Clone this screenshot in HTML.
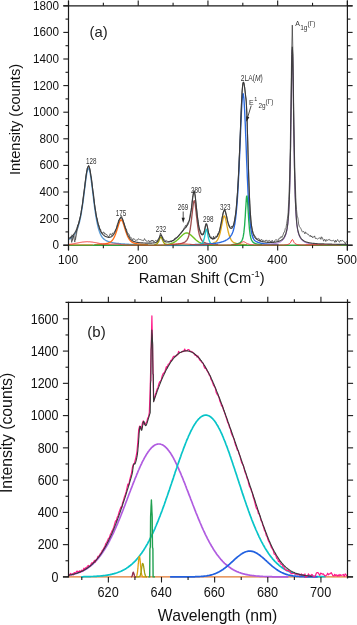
<!DOCTYPE html>
<html><head><meta charset="utf-8"><title>Raman and PL spectra</title>
<style>html,body{margin:0;padding:0;background:#fff}body{width:357px;height:625px;overflow:hidden}</style></head>
<body>
<svg width="357" height="625" viewBox="0 0 357 625" style="display:block;font-family:'Liberation Sans', Arial, sans-serif">
<rect width="357" height="625" fill="#fff"/>
<g id="chartA">
<clipPath id="ca"><rect x="68.5" y="5.8" width="278.9" height="240.59999999999997"/></clipPath>
<g clip-path="url(#ca)">
<polyline fill="none" stroke="#5b9bd5" stroke-width="1.35" stroke-linejoin="round" points="68.5,239.6 68.8,239.4 69.2,239.2 69.5,239.0 69.9,238.8 70.2,238.6 70.6,238.3 70.9,238.1 71.3,237.8 71.6,237.5 72.0,237.2 72.3,236.9 72.7,236.6 73.0,236.2 73.4,235.8 73.7,235.4 74.1,235.0 74.4,234.5 74.8,234.0 75.1,233.4 75.5,232.9 75.8,232.2 76.2,231.6 76.5,230.8 76.9,230.0 77.2,229.2 77.6,228.3 77.9,227.3 78.3,226.3 78.6,225.1 79.0,223.9 79.3,222.6 79.7,221.2 80.0,219.7 80.4,218.1 80.7,216.4 81.1,214.5 81.4,212.6 81.7,210.5 82.1,208.4 82.4,206.1 82.8,203.6 83.1,201.1 83.5,198.5 83.8,195.8 84.2,193.0 84.5,190.2 84.9,187.3 85.2,184.5 85.6,181.7 85.9,179.1 86.3,176.6 86.6,174.3 87.0,172.3 87.3,170.7 87.7,169.5 88.0,168.7 88.4,168.3 88.7,168.5 89.1,169.0 89.4,170.0 89.8,171.3 90.1,173.0 90.5,175.0 90.8,177.3 91.2,179.8 91.5,182.4 91.9,185.2 92.2,188.0 92.6,190.9 92.9,193.8 93.3,196.7 93.6,199.5 93.9,202.2 94.3,204.9 94.6,207.5 95.0,210.0 95.3,212.4 95.7,214.7 96.0,216.8 96.4,218.9 96.7,220.8 97.1,222.5 97.4,224.2 97.8,225.8 98.1,227.2 98.5,228.5 98.8,229.7 99.2,230.8 99.5,231.9 99.9,232.8 100.2,233.7 100.6,234.4 100.9,235.1 101.3,235.8 101.6,236.4 102.0,236.9 102.3,237.4 102.7,237.8 103.0,238.2 103.4,238.6 103.7,238.9 104.1,239.2 104.4,239.5 104.8,239.8 105.1,240.0 105.5,240.2 105.8,240.4 106.2,240.6 106.5,240.8 106.8,241.0 107.2,241.1 107.5,241.2 107.9,241.4 108.2,241.5 108.6,241.6 108.9,241.7 109.3,241.9 109.6,242.0 110.0,242.1 110.3,242.1 110.7,242.2 111.0,242.3 111.4,242.4 111.7,242.5 112.1,242.6 112.4,242.6 112.8,242.7 113.1,242.8 113.5,242.8 113.8,242.9 114.2,242.9 114.5,243.0 114.9,243.1 115.2,243.1 115.6,243.2 115.9,243.2 116.3,243.3 116.6,243.3 117.0,243.3 117.3,243.4 117.7,243.4 118.0,243.5 118.4,243.5 118.7,243.5 119.1,243.6 119.4,243.6 119.7,243.7 120.1,243.7 120.4,243.7 120.8,243.7 121.1,243.8 121.5,243.8 121.8,243.8 122.2,243.9 122.5,243.9 122.9,243.9 123.2,243.9 123.6,244.0 123.9,244.0 124.3,244.0 124.6,244.0 125.0,244.1 125.3,244.1 125.7,244.1 126.0,244.1 126.4,244.1 126.7,244.2 127.1,244.2 127.4,244.2 127.8,244.2 128.1,244.2 128.5,244.2 128.8,244.3 129.2,244.3 129.5,244.3 129.9,244.3 130.2,244.3 130.6,244.3 130.9,244.3 131.3,244.4 131.6,244.4 131.9,244.4 132.3,244.4 132.6,244.4 133.0,244.4 133.3,244.4 133.7,244.4 134.0,244.5 134.4,244.5 134.7,244.5 135.1,244.5 135.4,244.5 135.8,244.5 136.1,244.5 136.5,244.5 136.8,244.5 137.2,244.5 137.5,244.6 137.9,244.6 138.2,244.6 138.6,244.6 138.9,244.6 139.3,244.6 139.6,244.6 140.0,244.6 140.3,244.6 140.7,244.6 141.0,244.6 141.4,244.6 141.7,244.7 142.1,244.7 142.4,244.7 142.8,244.7" />
<polyline fill="none" stroke="#ff6c14" stroke-width="1.35" stroke-linejoin="round" points="94.3,244.7 94.6,244.7 95.0,244.7 95.3,244.6 95.7,244.6 96.0,244.6 96.4,244.6 96.7,244.6 97.1,244.6 97.4,244.5 97.8,244.5 98.1,244.5 98.5,244.5 98.8,244.5 99.2,244.4 99.5,244.4 99.9,244.4 100.2,244.4 100.6,244.3 100.9,244.3 101.3,244.3 101.6,244.2 102.0,244.2 102.3,244.2 102.7,244.1 103.0,244.1 103.4,244.1 103.7,244.0 104.1,244.0 104.4,243.9 104.8,243.9 105.1,243.8 105.5,243.8 105.8,243.7 106.2,243.6 106.5,243.6 106.8,243.5 107.2,243.4 107.5,243.3 107.9,243.2 108.2,243.1 108.6,242.9 108.9,242.8 109.3,242.6 109.6,242.5 110.0,242.3 110.3,242.1 110.7,241.8 111.0,241.5 111.4,241.2 111.7,240.9 112.1,240.5 112.4,240.1 112.8,239.6 113.1,239.1 113.5,238.6 113.8,237.9 114.2,237.3 114.5,236.5 114.9,235.8 115.2,234.9 115.6,234.0 115.9,233.1 116.3,232.1 116.6,231.0 117.0,229.9 117.3,228.8 117.7,227.7 118.0,226.5 118.4,225.4 118.7,224.3 119.1,223.3 119.4,222.3 119.7,221.5 120.1,220.8 120.4,220.3 120.8,220.0 121.1,219.9 121.5,220.0 121.8,220.3 122.2,220.8 122.5,221.5 122.9,222.3 123.2,223.3 123.6,224.3 123.9,225.4 124.3,226.5 124.6,227.7 125.0,228.8 125.3,229.9 125.7,231.0 126.0,232.1 126.4,233.1 126.7,234.0 127.1,234.9 127.4,235.8 127.8,236.5 128.1,237.3 128.5,237.9 128.8,238.6 129.2,239.1 129.5,239.6 129.9,240.1 130.2,240.5 130.6,240.9 130.9,241.2 131.3,241.5 131.6,241.8 131.9,242.1 132.3,242.3 132.6,242.5 133.0,242.6 133.3,242.8 133.7,242.9 134.0,243.1 134.4,243.2 134.7,243.3 135.1,243.4 135.4,243.5 135.8,243.6 136.1,243.6 136.5,243.7 136.8,243.8 137.2,243.8 137.5,243.9 137.9,243.9 138.2,244.0 138.6,244.0 138.9,244.1 139.3,244.1 139.6,244.1 140.0,244.2 140.3,244.2 140.7,244.2 141.0,244.3 141.4,244.3 141.7,244.3 142.1,244.4 142.4,244.4 142.8,244.4 143.1,244.4 143.5,244.5 143.8,244.5 144.2,244.5 144.5,244.5 144.8,244.5 145.2,244.6 145.5,244.6 145.9,244.6 146.2,244.6 146.6,244.6 146.9,244.6 147.3,244.7 147.6,244.7 148.0,244.7" />
<polyline fill="none" stroke="#a0a000" stroke-width="1.35" stroke-linejoin="round" points="154.3,244.7 154.6,244.6 155.0,244.6 155.3,244.5 155.7,244.4 156.0,244.2 156.4,244.1 156.7,243.9 157.1,243.6 157.4,243.3 157.7,242.9 158.1,242.4 158.4,241.8 158.8,241.1 159.1,240.3 159.5,239.4 159.8,238.5 160.2,237.7 160.5,237.2 160.9,237.0 161.2,237.2 161.6,237.7 161.9,238.5 162.3,239.4 162.6,240.3 163.0,241.1 163.3,241.8 163.7,242.4 164.0,242.9 164.4,243.3 164.7,243.6 165.1,243.9 165.4,244.1 165.8,244.2 166.1,244.4 166.5,244.5 166.8,244.6 167.2,244.6 167.5,244.7" />
<polyline fill="none" stroke="#6fc020" stroke-width="1.35" stroke-linejoin="round" points="164.4,244.7 164.7,244.7 165.1,244.6 165.4,244.6 165.8,244.6 166.1,244.5 166.5,244.5 166.8,244.5 167.2,244.4 167.5,244.4 167.9,244.3 168.2,244.3 168.6,244.2 168.9,244.2 169.3,244.1 169.6,244.0 169.9,243.9 170.3,243.8 170.6,243.7 171.0,243.6 171.3,243.5 171.7,243.4 172.0,243.3 172.4,243.1 172.7,243.0 173.1,242.8 173.4,242.6 173.8,242.5 174.1,242.3 174.5,242.1 174.8,241.8 175.2,241.6 175.5,241.4 175.9,241.1 176.2,240.9 176.6,240.6 176.9,240.3 177.3,240.0 177.6,239.7 178.0,239.4 178.3,239.1 178.7,238.8 179.0,238.4 179.4,238.1 179.7,237.7 180.1,237.4 180.4,237.1 180.8,236.7 181.1,236.4 181.5,236.0 181.8,235.7 182.2,235.4 182.5,235.1 182.8,234.8 183.2,234.5 183.5,234.2 183.9,234.0 184.2,233.7 184.6,233.5 184.9,233.4 185.3,233.2 185.6,233.1 186.0,233.0 186.3,233.0 186.7,233.0 187.0,233.0 187.4,233.0 187.7,233.1 188.1,233.2 188.4,233.4 188.8,233.5 189.1,233.7 189.5,234.0 189.8,234.2 190.2,234.5 190.5,234.8 190.9,235.1 191.2,235.4 191.6,235.7 191.9,236.0 192.3,236.4 192.6,236.7 193.0,237.1 193.3,237.4 193.7,237.7 194.0,238.1 194.4,238.4 194.7,238.8 195.1,239.1 195.4,239.4 195.7,239.7 196.1,240.0 196.4,240.3 196.8,240.6 197.1,240.9 197.5,241.1 197.8,241.4 198.2,241.6 198.5,241.8 198.9,242.1 199.2,242.3 199.6,242.5 199.9,242.6 200.3,242.8 200.6,243.0 201.0,243.1 201.3,243.3 201.7,243.4 202.0,243.5 202.4,243.6 202.7,243.7 203.1,243.8 203.4,243.9 203.8,244.0 204.1,244.1 204.5,244.2 204.8,244.2 205.2,244.3 205.5,244.3 205.9,244.4 206.2,244.4 206.6,244.5 206.9,244.5 207.3,244.5 207.6,244.6 207.9,244.6 208.3,244.6 208.6,244.7 209.0,244.7" />
<polyline fill="none" stroke="#a05050" stroke-width="1.35" stroke-linejoin="round" points="170.3,244.7 170.6,244.7 171.0,244.6 171.3,244.6 171.7,244.6 172.0,244.6 172.4,244.6 172.7,244.5 173.1,244.5 173.4,244.5 173.8,244.5 174.1,244.5 174.5,244.4 174.8,244.4 175.2,244.4 175.5,244.3 175.9,244.3 176.2,244.3 176.6,244.2 176.9,244.2 177.3,244.2 177.6,244.1 178.0,244.1 178.3,244.0 178.7,244.0 179.0,243.9 179.4,243.9 179.7,243.8 180.1,243.7 180.4,243.7 180.8,243.6 181.1,243.5 181.5,243.4 181.8,243.3 182.2,243.2 182.5,243.1 182.8,243.0 183.2,242.9 183.5,242.7 183.9,242.6 184.2,242.4 184.6,242.2 184.9,242.0 185.3,241.7 185.6,241.4 186.0,241.1 186.3,240.8 186.7,240.3 187.0,239.8 187.4,239.3 187.7,238.6 188.1,237.8 188.4,236.9 188.8,235.7 189.1,234.5 189.5,233.0 189.8,231.2 190.2,229.3 190.5,227.0 190.9,224.5 191.2,221.8 191.6,218.8 191.9,215.7 192.3,212.5 192.6,209.3 193.0,206.3 193.3,203.8 193.7,201.9 194.0,200.8 194.4,200.7 194.7,201.6 195.1,203.4 195.4,205.8 195.7,208.7 196.1,211.9 196.4,215.1 196.8,218.2 197.1,221.2 197.5,224.0 197.8,226.5 198.2,228.8 198.5,230.9 198.9,232.6 199.2,234.2 199.6,235.5 199.9,236.6 200.3,237.6 200.6,238.4 201.0,239.1 201.3,239.7 201.7,240.2 202.0,240.7 202.4,241.1 202.7,241.4 203.1,241.7 203.4,241.9 203.8,242.1 204.1,242.3 204.5,242.5 204.8,242.7 205.2,242.8 205.5,243.0 205.9,243.1 206.2,243.2 206.6,243.3 206.9,243.4 207.3,243.5 207.6,243.6 207.9,243.7 208.3,243.7 208.6,243.8 209.0,243.9 209.3,243.9 209.7,244.0 210.0,244.0 210.4,244.1 210.7,244.1 211.1,244.2 211.4,244.2 211.8,244.2 212.1,244.3 212.5,244.3 212.8,244.3 213.2,244.4 213.5,244.4 213.9,244.4 214.2,244.5 214.6,244.5 214.9,244.5 215.3,244.5 215.6,244.5 216.0,244.6 216.3,244.6 216.7,244.6 217.0,244.6 217.4,244.6 217.7,244.7 218.1,244.7" />
<polyline fill="none" stroke="#20c8d0" stroke-width="1.35" stroke-linejoin="round" points="197.8,244.7 198.2,244.6 198.5,244.6 198.9,244.5 199.2,244.5 199.6,244.4 199.9,244.3 200.3,244.2 200.6,244.1 201.0,243.9 201.3,243.8 201.7,243.6 202.0,243.3 202.4,242.9 202.7,242.5 203.1,241.9 203.4,241.1 203.8,240.1 204.1,238.9 204.5,237.4 204.8,235.7 205.2,233.8 205.5,232.0 205.9,230.4 206.2,229.4 206.6,229.3 206.9,230.1 207.3,231.6 207.6,233.4 207.9,235.3 208.3,237.1 208.6,238.6 209.0,239.9 209.3,240.9 209.7,241.7 210.0,242.4 210.4,242.8 210.7,243.2 211.1,243.5 211.4,243.7 211.8,243.9 212.1,244.1 212.5,244.2 212.8,244.3 213.2,244.4 213.5,244.4 213.9,244.5 214.2,244.6 214.6,244.6 214.9,244.7 215.3,244.7" />
<polyline fill="none" stroke="#e0a820" stroke-width="1.35" stroke-linejoin="round" points="201.7,244.7 202.0,244.7 202.4,244.6 202.7,244.6 203.1,244.6 203.4,244.6 203.8,244.6 204.1,244.6 204.5,244.5 204.8,244.5 205.2,244.5 205.5,244.5 205.9,244.4 206.2,244.4 206.6,244.4 206.9,244.3 207.3,244.3 207.6,244.3 207.9,244.2 208.3,244.2 208.6,244.1 209.0,244.1 209.3,244.0 209.7,244.0 210.0,243.9 210.4,243.9 210.7,243.8 211.1,243.7 211.4,243.7 211.8,243.6 212.1,243.5 212.5,243.4 212.8,243.3 213.2,243.2 213.5,243.1 213.9,242.9 214.2,242.8 214.6,242.6 214.9,242.4 215.3,242.2 215.6,242.0 216.0,241.7 216.3,241.4 216.7,241.0 217.0,240.6 217.4,240.1 217.7,239.5 218.1,238.9 218.4,238.1 218.8,237.3 219.1,236.3 219.5,235.3 219.8,234.1 220.2,232.8 220.5,231.3 220.8,229.8 221.2,228.1 221.5,226.4 221.9,224.6 222.2,222.8 222.6,221.0 222.9,219.4 223.3,218.0 223.6,216.9 224.0,216.2 224.3,215.9 224.7,216.2 225.0,216.9 225.4,218.0 225.7,219.4 226.1,221.0 226.4,222.8 226.8,224.6 227.1,226.4 227.5,228.1 227.8,229.8 228.2,231.3 228.5,232.8 228.9,234.1 229.2,235.3 229.6,236.3 229.9,237.3 230.3,238.1 230.6,238.9 231.0,239.5 231.3,240.1 231.7,240.6 232.0,241.0 232.4,241.4 232.7,241.7 233.1,242.0 233.4,242.2 233.7,242.4 234.1,242.6 234.4,242.8 234.8,242.9 235.1,243.1 235.5,243.2 235.8,243.3 236.2,243.4 236.5,243.5 236.9,243.6 237.2,243.7 237.6,243.7 237.9,243.8 238.3,243.9 238.6,243.9 239.0,244.0 239.3,244.0 239.7,244.1 240.0,244.1 240.4,244.2 240.7,244.2 241.1,244.3 241.4,244.3 241.8,244.3 242.1,244.4 242.5,244.4 242.8,244.4 243.2,244.5 243.5,244.5 243.9,244.5 244.2,244.5 244.6,244.6 244.9,244.6 245.3,244.6 245.6,244.6 246.0,244.6 246.3,244.6 246.6,244.7 247.0,244.7" />
<polyline fill="none" stroke="#2868e0" stroke-width="1.35" stroke-linejoin="round" points="189.8,244.7 190.2,244.7 190.5,244.7 190.9,244.6 191.2,244.6 191.6,244.6 191.9,244.6 192.3,244.6 192.6,244.6 193.0,244.6 193.3,244.6 193.7,244.6 194.0,244.6 194.4,244.6 194.7,244.6 195.1,244.5 195.4,244.5 195.7,244.5 196.1,244.5 196.4,244.5 196.8,244.5 197.1,244.5 197.5,244.5 197.8,244.5 198.2,244.5 198.5,244.4 198.9,244.4 199.2,244.4 199.6,244.4 199.9,244.4 200.3,244.4 200.6,244.4 201.0,244.4 201.3,244.3 201.7,244.3 202.0,244.3 202.4,244.3 202.7,244.3 203.1,244.3 203.4,244.2 203.8,244.2 204.1,244.2 204.5,244.2 204.8,244.2 205.2,244.2 205.5,244.1 205.9,244.1 206.2,244.1 206.6,244.1 206.9,244.1 207.3,244.0 207.6,244.0 207.9,244.0 208.3,244.0 208.6,243.9 209.0,243.9 209.3,243.9 209.7,243.9 210.0,243.8 210.4,243.8 210.7,243.8 211.1,243.7 211.4,243.7 211.8,243.7 212.1,243.6 212.5,243.6 212.8,243.6 213.2,243.5 213.5,243.5 213.9,243.5 214.2,243.4 214.6,243.4 214.9,243.3 215.3,243.3 215.6,243.2 216.0,243.2 216.3,243.1 216.7,243.1 217.0,243.0 217.4,243.0 217.7,242.9 218.1,242.8 218.4,242.8 218.8,242.7 219.1,242.6 219.5,242.6 219.8,242.5 220.2,242.4 220.5,242.3 220.8,242.2 221.2,242.1 221.5,242.0 221.9,241.9 222.2,241.8 222.6,241.7 222.9,241.6 223.3,241.5 223.6,241.3 224.0,241.2 224.3,241.1 224.7,240.9 225.0,240.8 225.4,240.6 225.7,240.4 226.1,240.2 226.4,240.0 226.8,239.8 227.1,239.6 227.5,239.3 227.8,239.1 228.2,238.8 228.5,238.5 228.9,238.2 229.2,237.9 229.6,237.5 229.9,237.1 230.3,236.7 230.6,236.2 231.0,235.7 231.3,235.2 231.7,234.6 232.0,233.9 232.4,233.1 232.7,232.3 233.1,231.3 233.4,230.2 233.7,229.0 234.1,227.6 234.4,225.9 234.8,224.1 235.1,221.9 235.5,219.4 235.8,216.6 236.2,213.4 236.5,209.8 236.9,205.7 237.2,201.1 237.6,196.0 237.9,190.4 238.3,184.2 238.6,177.4 239.0,170.1 239.3,162.4 239.7,154.3 240.0,145.8 240.4,137.2 240.7,128.6 241.1,120.3 241.4,112.6 241.8,105.8 242.1,100.2 242.5,96.1 242.8,93.9 243.2,93.7 243.5,95.3 243.9,98.6 244.2,103.4 244.6,109.5 244.9,116.7 245.3,124.7 245.6,133.2 246.0,142.1 246.3,151.0 246.6,159.9 247.0,168.5 247.3,176.8 247.7,184.6 248.0,191.8 248.4,198.5 248.7,204.5 249.1,210.0 249.4,214.8 249.8,219.0 250.1,222.6 250.5,225.8 250.8,228.5 251.2,230.8 251.5,232.7 251.9,234.3 252.2,235.6 252.6,236.7 252.9,237.6 253.3,238.4 253.6,239.0 254.0,239.6 254.3,240.0 254.7,240.4 255.0,240.7 255.4,241.0 255.7,241.2 256.1,241.5 256.4,241.7 256.8,241.8 257.1,242.0 257.5,242.1 257.8,242.3 258.2,242.4 258.5,242.5 258.8,242.6 259.2,242.7 259.5,242.8 259.9,242.9 260.2,243.0 260.6,243.1 260.9,243.2 261.3,243.2 261.6,243.3 262.0,243.4 262.3,243.4 262.7,243.5 263.0,243.6 263.4,243.6 263.7,243.7 264.1,243.7 264.4,243.8 264.8,243.8 265.1,243.8 265.5,243.9 265.8,243.9 266.2,244.0 266.5,244.0 266.9,244.0 267.2,244.1 267.6,244.1 267.9,244.1 268.3,244.2 268.6,244.2 269.0,244.2 269.3,244.2 269.7,244.3 270.0,244.3 270.4,244.3 270.7,244.3 271.1,244.3 271.4,244.4 271.7,244.4 272.1,244.4 272.4,244.4 272.8,244.4 273.1,244.5 273.5,244.5 273.8,244.5 274.2,244.5 274.5,244.5 274.9,244.5 275.2,244.6 275.6,244.6 275.9,244.6 276.3,244.6 276.6,244.6 277.0,244.6 277.3,244.6 277.7,244.6 278.0,244.7 278.4,244.7 278.7,244.7" />
<polyline fill="none" stroke="#20b050" stroke-width="1.35" stroke-linejoin="round" points="231.3,244.7 231.7,244.7 232.0,244.6 232.4,244.6 232.7,244.6 233.1,244.5 233.4,244.5 233.7,244.5 234.1,244.4 234.4,244.4 234.8,244.3 235.1,244.3 235.5,244.2 235.8,244.2 236.2,244.1 236.5,244.0 236.9,244.0 237.2,243.9 237.6,243.8 237.9,243.7 238.3,243.6 238.6,243.4 239.0,243.3 239.3,243.1 239.7,242.9 240.0,242.7 240.4,242.4 240.7,242.1 241.1,241.7 241.4,241.3 241.8,240.8 242.1,240.1 242.5,239.3 242.8,238.2 243.2,236.7 243.5,234.8 243.9,232.4 244.2,229.3 244.6,225.5 244.9,221.0 245.3,215.7 245.6,209.9 246.0,204.2 246.3,199.3 246.6,196.3 247.0,196.0 247.3,198.5 247.7,203.1 248.0,208.8 248.4,214.6 248.7,220.0 249.1,224.7 249.4,228.6 249.8,231.9 250.1,234.4 250.5,236.4 250.8,237.9 251.2,239.1 251.5,240.0 251.9,240.7 252.2,241.2 252.6,241.7 252.9,242.0 253.3,242.4 253.6,242.6 254.0,242.9 254.3,243.1 254.7,243.2 255.0,243.4 255.4,243.5 255.7,243.6 256.1,243.8 256.4,243.9 256.8,243.9 257.1,244.0 257.5,244.1 257.8,244.2 258.2,244.2 258.5,244.3 258.8,244.3 259.2,244.4 259.5,244.4 259.9,244.5 260.2,244.5 260.6,244.5 260.9,244.6 261.3,244.6 261.6,244.6 262.0,244.7 262.3,244.7" />
<polyline fill="none" stroke="#a060d0" stroke-width="1.0" stroke-linejoin="round" points="262.3,244.7 262.7,244.7 263.0,244.6 263.4,244.6 263.7,244.6 264.1,244.6 264.4,244.6 264.8,244.6 265.1,244.6 265.5,244.5 265.8,244.5 266.2,244.5 266.5,244.5 266.9,244.5 267.2,244.4 267.6,244.4 267.9,244.4 268.3,244.4 268.6,244.4 269.0,244.3 269.3,244.3 269.7,244.3 270.0,244.3 270.4,244.2 270.7,244.2 271.1,244.2 271.4,244.1 271.7,244.1 272.1,244.0 272.4,244.0 272.8,244.0 273.1,243.9 273.5,243.9 273.8,243.8 274.2,243.8 274.5,243.7 274.9,243.7 275.2,243.6 275.6,243.5 275.9,243.4 276.3,243.4 276.6,243.3 277.0,243.2 277.3,243.1 277.7,243.0 278.0,242.9 278.4,242.8 278.7,242.7 279.1,242.5 279.4,242.4 279.8,242.2 280.1,242.1 280.5,241.9 280.8,241.7 281.2,241.5 281.5,241.2 281.9,241.0 282.2,240.7 282.6,240.4 282.9,240.0 283.3,239.6 283.6,239.2 284.0,238.7 284.3,238.1 284.6,237.5 285.0,236.8 285.3,236.0 285.7,235.1 286.0,234.0 286.4,232.7 286.7,231.3 287.1,229.5 287.4,227.3 287.8,224.7 288.1,221.3 288.5,217.1 288.8,211.5 289.2,204.2 289.5,194.6 289.9,182.3 290.2,166.7 290.6,147.4 290.9,124.7 291.3,99.7 291.6,75.4 292.0,56.8 292.3,49.7 292.7,56.8 293.0,75.4 293.4,99.7 293.7,124.7 294.1,147.4 294.4,166.7 294.8,182.3 295.1,194.6 295.5,204.2 295.8,211.5 296.2,217.1 296.5,221.3 296.8,224.7 297.2,227.3 297.5,229.5 297.9,231.3 298.2,232.7 298.6,234.0 298.9,235.1 299.3,236.0 299.6,236.8 300.0,237.5 300.3,238.1 300.7,238.7 301.0,239.2 301.4,239.6 301.7,240.0 302.1,240.4 302.4,240.7 302.8,241.0 303.1,241.2 303.5,241.5 303.8,241.7 304.2,241.9 304.5,242.1 304.9,242.2 305.2,242.4 305.6,242.5 305.9,242.7 306.3,242.8 306.6,242.9 307.0,243.0 307.3,243.1 307.7,243.2 308.0,243.3 308.4,243.4 308.7,243.4 309.1,243.5 309.4,243.6 309.7,243.7 310.1,243.7 310.4,243.8 310.8,243.8 311.1,243.9 311.5,243.9 311.8,244.0 312.2,244.0 312.5,244.0 312.9,244.1 313.2,244.1 313.6,244.2 313.9,244.2 314.3,244.2 314.6,244.3 315.0,244.3 315.3,244.3 315.7,244.3 316.0,244.4 316.4,244.4 316.7,244.4 317.1,244.4 317.4,244.4 317.8,244.5 318.1,244.5 318.5,244.5 318.8,244.5 319.2,244.5 319.5,244.6 319.9,244.6 320.2,244.6 320.6,244.6 320.9,244.6 321.3,244.6 321.6,244.6 322.0,244.7 322.3,244.7" />
<line x1="68.50" y1="245.20" x2="347.40" y2="245.20" stroke="#30a040" stroke-width="1.5"/>
<line x1="68.50" y1="244.80" x2="92.90" y2="244.80" stroke="#e88020" stroke-width="0.8"/>
<line x1="164.72" y1="245.65" x2="207.95" y2="245.65" stroke="#3a6cc0" stroke-width="0.7"/>
<line x1="305.56" y1="244.85" x2="347.40" y2="244.85" stroke="#f03030" stroke-width="0.6"/>
<polyline fill="none" stroke="#f03030" stroke-width="1.0" stroke-linejoin="round" points="68.5,244.5 68.8,244.5 69.2,244.4 69.5,244.4 69.9,244.3 70.2,244.3 70.6,244.2 70.9,244.2 71.3,244.1 71.6,244.1 72.0,244.0 72.3,244.0 72.7,243.9 73.0,243.8 73.4,243.8 73.7,243.7 74.1,243.6 74.4,243.6 74.8,243.5 75.1,243.4 75.5,243.4 75.8,243.3 76.2,243.2 76.5,243.2 76.9,243.1 77.2,243.0 77.6,243.0 77.9,242.9 78.3,242.8 78.6,242.8 79.0,242.7 79.3,242.6 79.7,242.6 80.0,242.5 80.4,242.4 80.7,242.4 81.1,242.3 81.4,242.3 81.7,242.2 82.1,242.1 82.4,242.1 82.8,242.0 83.1,242.0 83.5,242.0 83.8,241.9 84.2,241.9 84.5,241.9 84.9,241.8 85.2,241.8 85.6,241.8 85.9,241.8 86.3,241.8 86.6,241.7 87.0,241.7 87.3,241.7 87.7,241.7 88.0,241.7 88.4,241.8 88.7,241.8 89.1,241.8 89.4,241.8 89.8,241.8 90.1,241.9 90.5,241.9 90.8,241.9 91.2,242.0 91.5,242.0 91.9,242.0 92.2,242.1 92.6,242.1 92.9,242.2 93.3,242.3 93.6,242.3 93.9,242.4 94.3,242.4 94.6,242.5 95.0,242.6 95.3,242.6 95.7,242.7 96.0,242.8 96.4,242.8 96.7,242.9 97.1,243.0 97.4,243.0 97.8,243.1 98.1,243.2 98.5,243.2 98.8,243.3 99.2,243.4 99.5,243.4 99.9,243.5 100.2,243.6 100.6,243.6 100.9,243.7 101.3,243.7 101.6,243.8 102.0,243.9 102.3,243.9 102.7,244.0 103.0,244.0 103.4,244.0 103.7,244.1 104.1,244.1 104.4,244.2 104.8,244.2 105.1,244.2 105.5,244.2 105.8,244.3 106.2,244.3 106.5,244.3 106.8,244.3 107.2,244.3 107.5,244.3 107.9,244.3 108.2,244.3 108.6,244.3 108.9,244.3 109.3,244.3 109.6,244.3 110.0,244.3 110.3,244.2 110.7,244.2 111.0,244.2 111.4,244.2 111.7,244.2 112.1,244.1 112.4,244.1 112.8,244.1 113.1,244.1 113.5,244.1 113.8,244.1 114.2,244.1 114.5,244.0 114.9,244.0 115.2,244.0 115.6,244.0 115.9,244.1 116.3,244.1 116.6,244.1 117.0,244.1 117.3,244.1 117.7,244.1 118.0,244.2 118.4,244.2 118.7,244.2 119.1,244.3 119.4,244.3 119.7,244.3 120.1,244.4 120.4,244.4 120.8,244.5 121.1,244.5 121.5,244.5 121.8,244.6 122.2,244.6 122.5,244.7 122.9,244.7 123.2,244.7 123.6,244.8 123.9,244.8 124.3,244.8 124.6,244.9 125.0,244.9 125.3,244.9 125.7,245.0 126.0,245.0 126.4,245.0 126.7,245.0 127.1,245.0 127.4,245.1 127.8,245.1 128.1,245.1 128.5,245.1 128.8,245.1 129.2,245.1 129.5,245.1 129.9,245.1 130.2,245.2 130.6,245.2 130.9,245.2 131.3,245.2 131.6,245.2 131.9,245.2 132.3,245.2 132.6,245.2 133.0,245.2 133.3,245.2 133.7,245.2 134.0,245.2 134.4,245.2 134.7,245.2 135.1,245.2 135.4,245.2 135.8,245.2 136.1,245.2 136.5,245.2 136.8,245.2 137.2,245.2 137.5,245.2 137.9,245.2 138.2,245.2 138.6,245.2 138.9,245.2 139.3,245.2 139.6,245.2 140.0,245.2 140.3,245.2 140.7,245.2 141.0,245.2 141.4,245.2 141.7,245.2 142.1,245.2 142.4,245.2 142.8,245.2 143.1,245.2 143.5,245.2 143.8,245.2 144.2,245.2 144.5,245.2 144.8,245.2 145.2,245.2 145.5,245.2 145.9,245.2 146.2,245.2 146.6,245.2 146.9,245.2 147.3,245.2 147.6,245.2 148.0,245.2 148.3,245.2 148.7,245.2 149.0,245.2 149.4,245.2 149.7,245.2 150.1,245.2 150.4,245.2 150.8,245.2 151.1,245.2 151.5,245.2 151.8,245.2 152.2,245.2 152.5,245.2 152.9,245.2 153.2,245.2 153.6,245.2 153.9,245.2 154.3,245.2 154.6,245.2 155.0,245.2 155.3,245.2 155.7,245.2 156.0,245.1 156.4,245.1 156.7,245.1 157.1,245.1 157.4,245.1 157.7,245.1 158.1,245.1 158.4,245.1 158.8,245.1 159.1,245.1 159.5,245.1 159.8,245.1 160.2,245.1 160.5,245.1 160.9,245.0 161.2,245.0 161.6,245.0 161.9,245.0 162.3,245.0 162.6,245.0 163.0,245.0 163.3,245.0 163.7,244.9 164.0,244.9 164.4,244.9 164.7,244.9 165.1,244.9 165.4,244.8 165.8,244.8 166.1,244.8 166.5,244.8 166.8,244.8 167.2,244.7 167.5,244.7 167.9,244.7 168.2,244.7 168.6,244.6 168.9,244.6 169.3,244.6 169.6,244.6 169.9,244.5 170.3,244.5 170.6,244.5 171.0,244.4 171.3,244.4 171.7,244.4 172.0,244.4 172.4,244.3 172.7,244.3 173.1,244.3 173.4,244.2 173.8,244.2 174.1,244.2 174.5,244.2 174.8,244.1 175.2,244.1 175.5,244.1 175.9,244.1 176.2,244.0 176.6,244.0 176.9,244.0 177.3,244.0 177.6,244.0 178.0,243.9 178.3,243.9 178.7,243.9 179.0,243.9 179.4,243.9 179.7,243.9 180.1,243.9 180.4,243.9 180.8,243.9 181.1,243.9 181.5,243.9 181.8,243.9 182.2,243.9 182.5,243.9 182.8,243.9 183.2,243.9 183.5,243.9 183.9,243.9 184.2,243.9 184.6,243.9 184.9,243.9 185.3,244.0 185.6,244.0 186.0,244.0 186.3,244.0 186.7,244.0 187.0,244.1 187.4,244.1 187.7,244.1 188.1,244.1 188.4,244.2 188.8,244.2 189.1,244.2 189.5,244.2 189.8,244.3 190.2,244.3 190.5,244.3 190.9,244.3 191.2,244.4 191.6,244.4 191.9,244.4 192.3,244.5 192.6,244.5 193.0,244.5 193.3,244.5 193.7,244.6 194.0,244.6 194.4,244.6 194.7,244.6 195.1,244.7 195.4,244.7 195.7,244.7 196.1,244.7 196.4,244.8 196.8,244.8 197.1,244.8 197.5,244.8 197.8,244.8 198.2,244.8 198.5,244.8 198.9,244.8 199.2,244.8 199.6,244.8 199.9,244.8 200.3,244.8 200.6,244.8 201.0,244.8 201.3,244.8 201.7,244.8 202.0,244.7 202.4,244.7 202.7,244.7 203.1,244.7 203.4,244.6 203.8,244.6 204.1,244.6 204.5,244.5 204.8,244.5 205.2,244.5 205.5,244.4 205.9,244.4 206.2,244.4 206.6,244.4 206.9,244.3 207.3,244.3 207.6,244.3 207.9,244.3 208.3,244.3 208.6,244.3 209.0,244.4 209.3,244.4 209.7,244.4 210.0,244.4 210.4,244.5 210.7,244.5 211.1,244.5 211.4,244.6 211.8,244.6 212.1,244.7 212.5,244.7 212.8,244.7 213.2,244.8 213.5,244.8 213.9,244.9 214.2,244.9 214.6,244.9 214.9,244.9 215.3,245.0 215.6,245.0 216.0,245.0 216.3,245.0 216.7,245.0 217.0,245.1 217.4,245.1 217.7,245.1 218.1,245.1 218.4,245.1 218.8,245.1 219.1,245.1 219.5,245.1 219.8,245.1 220.2,245.1 220.5,245.1 220.8,245.1 221.2,245.1 221.5,245.1 221.9,245.1 222.2,245.1 222.6,245.1 222.9,245.1 223.3,245.1 223.6,245.1 224.0,245.1 224.3,245.1 224.7,245.1 225.0,245.1 225.4,245.1 225.7,245.1 226.1,245.1 226.4,245.1 226.8,245.1 227.1,245.0 227.5,245.0 227.8,245.0 228.2,245.0 228.5,245.0 228.9,245.0 229.2,245.0 229.6,245.0 229.9,245.0 230.3,245.0 230.6,245.0 231.0,244.9 231.3,244.9 231.7,244.9 232.0,244.9 232.4,244.9 232.7,244.9 233.1,244.8 233.4,244.8 233.7,244.8 234.1,244.8 234.4,244.7 234.8,244.7 235.1,244.7 235.5,244.6 235.8,244.6 236.2,244.6 236.5,244.5 236.9,244.4 237.2,244.4 237.6,244.3 237.9,244.2 238.3,244.1 238.6,244.0 239.0,243.9 239.3,243.8 239.7,243.6 240.0,243.5 240.4,243.3 240.7,243.1 241.1,242.9 241.4,242.7 241.8,242.4 242.1,242.2 242.5,242.0 242.8,241.9 243.2,241.8 243.5,241.7 243.9,241.8 244.2,241.9 244.6,242.0 244.9,242.2 245.3,242.4 245.6,242.6 246.0,242.9 246.3,243.1 246.6,243.3 247.0,243.5 247.3,243.6 247.7,243.8 248.0,243.9 248.4,244.0 248.7,244.1 249.1,244.2 249.4,244.3 249.8,244.4 250.1,244.4 250.5,244.5 250.8,244.6 251.2,244.6 251.5,244.6 251.9,244.7 252.2,244.7 252.6,244.7 252.9,244.8 253.3,244.8 253.6,244.8 254.0,244.8 254.3,244.9 254.7,244.9 255.0,244.9 255.4,244.9 255.7,244.9 256.1,244.9 256.4,245.0 256.8,245.0 257.1,245.0 257.5,245.0 257.8,245.0 258.2,245.0 258.5,245.0 258.8,245.0 259.2,245.0 259.5,245.0 259.9,245.0 260.2,245.0 260.6,245.0 260.9,245.0 261.3,245.1 261.6,245.1 262.0,245.1 262.3,245.1 262.7,245.1 263.0,245.1 263.4,245.1 263.7,245.1 264.1,245.1 264.4,245.1 264.8,245.1 265.1,245.1 265.5,245.1 265.8,245.1 266.2,245.1 266.5,245.1 266.9,245.1 267.2,245.1 267.6,245.1 267.9,245.1 268.3,245.1 268.6,245.1 269.0,245.1 269.3,245.1 269.7,245.1 270.0,245.1 270.4,245.1 270.7,245.1 271.1,245.1 271.4,245.1 271.7,245.1 272.1,245.1 272.4,245.1 272.8,245.1 273.1,245.1 273.5,245.1 273.8,245.1 274.2,245.1 274.5,245.1 274.9,245.1 275.2,245.1 275.6,245.1 275.9,245.1 276.3,245.1 276.6,245.1 277.0,245.1 277.3,245.1 277.7,245.1 278.0,245.1 278.4,245.1 278.7,245.1 279.1,245.1 279.4,245.1 279.8,245.1 280.1,245.1 280.5,245.0 280.8,245.0 281.2,245.0 281.5,245.0 281.9,245.0 282.2,245.0 282.6,245.0 282.9,245.0 283.3,245.0 283.6,245.0 284.0,244.9 284.3,244.9 284.6,244.9 285.0,244.9 285.3,244.8 285.7,244.8 286.0,244.8 286.4,244.7 286.7,244.7 287.1,244.6 287.4,244.5 287.8,244.4 288.1,244.3 288.5,244.2 288.8,244.0 289.2,243.8 289.5,243.6 289.9,243.3 290.2,242.9 290.6,242.4 290.9,241.8 291.3,241.1 291.6,240.3 292.0,239.8 292.3,239.6 292.7,239.8 293.0,240.3 293.4,241.0 293.7,241.7 294.1,242.4 294.4,242.9 294.8,243.3 295.1,243.6 295.5,243.8 295.8,244.0 296.2,244.2 296.5,244.3 296.8,244.4 297.2,244.5 297.5,244.6 297.9,244.6 298.2,244.7 298.6,244.7 298.9,244.7 299.3,244.8 299.6,244.8 300.0,244.8 300.3,244.8 300.7,244.9 301.0,244.9 301.4,244.9 301.7,244.9 302.1,244.9 302.4,244.9 302.8,244.9 303.1,244.9 303.5,244.9 303.8,244.9 304.2,244.9 304.5,244.9 304.9,244.9 305.2,244.9 305.6,244.9 305.9,244.9 306.3,244.9 306.6,244.9 307.0,244.9 307.3,244.9 307.7,244.9 308.0,244.9 308.4,244.9 308.7,244.9 309.1,244.9 309.4,244.9 309.7,244.9 310.1,244.9 310.4,244.9 310.8,244.9 311.1,244.9 311.5,244.8 311.8,244.8 312.2,244.8 312.5,244.8 312.9,244.8 313.2,244.8 313.6,244.8 313.9,244.8 314.3,244.8 314.6,244.8 315.0,244.8 315.3,244.8 315.7,244.8 316.0,244.8 316.4,244.8 316.7,244.7 317.1,244.7 317.4,244.7 317.8,244.7 318.1,244.7 318.5,244.7 318.8,244.7 319.2,244.7 319.5,244.7 319.9,244.7 320.2,244.7 320.6,244.7 320.9,244.7 321.3,244.7 321.6,244.7 322.0,244.7 322.3,244.7 322.6,244.7 323.0,244.7 323.3,244.7 323.7,244.7 324.0,244.7 324.4,244.7 324.7,244.6 325.1,244.6 325.4,244.6 325.8,244.6 326.1,244.6 326.5,244.6 326.8,244.6 327.2,244.6 327.5,244.6 327.9,244.7 328.2,244.7 328.6,244.7 328.9,244.7 329.3,244.7 329.6,244.7 330.0,244.7 330.3,244.7 330.7,244.7 331.0,244.7 331.4,244.7 331.7,244.7 332.1,244.7 332.4,244.7 332.8,244.7 333.1,244.7 333.5,244.7 333.8,244.7 334.2,244.7 334.5,244.7 334.8,244.7 335.2,244.7 335.5,244.8 335.9,244.8 336.2,244.8 336.6,244.8 336.9,244.8 337.3,244.8 337.6,244.8 338.0,244.8 338.3,244.8 338.7,244.8 339.0,244.8 339.4,244.8 339.7,244.8 340.1,244.9 340.4,244.9 340.8,244.9" />
<polyline fill="none" stroke="#777" stroke-width="0.7" stroke-linejoin="round" points="71.4,234.6 72.4,240.5 73.9,233.9 75.5,239.9 77.6,228.6 79.7,219.6" />
<polyline fill="none" stroke="#484848" stroke-width="1.15" stroke-linejoin="round" points="68.5,238.7 68.8,238.5 69.2,238.3 69.5,238.1 69.9,237.9 70.2,237.6 70.6,237.4 70.9,237.1 71.3,236.8 71.6,236.5 72.0,236.2 72.3,235.9 72.7,235.5 73.0,235.1 73.4,234.7 73.7,234.3 74.1,233.8 74.4,233.3 74.8,232.8 75.1,232.2 75.5,231.6 75.8,230.9 76.2,230.2 76.5,229.5 76.9,228.7 77.2,227.8 77.6,226.9 77.9,225.9 78.3,224.8 78.6,223.6 79.0,222.4 79.3,221.1 79.7,219.6 80.0,218.1 80.4,216.5 80.7,214.7 81.1,212.9 81.4,210.9 81.7,208.8 82.1,206.6 82.4,204.3 82.8,201.9 83.1,199.3 83.5,196.7 83.8,194.0 84.2,191.1 84.5,188.3 84.9,185.4 85.2,182.6 85.6,179.8 85.9,177.1 86.3,174.6 86.6,172.3 87.0,170.3 87.3,168.7 87.7,167.4 88.0,166.6 88.4,166.2 88.7,166.4 89.1,166.9 89.4,167.8 89.8,169.2 90.1,170.8 90.5,172.8 90.8,175.1 91.2,177.5 91.5,180.1 91.9,182.8 92.2,185.6 92.6,188.5 92.9,191.3 93.3,194.2 93.6,197.0 93.9,199.7 94.3,202.3 94.6,204.9 95.0,207.3 95.3,209.7 95.7,211.9 96.0,214.0 96.4,216.0 96.7,217.9 97.1,219.6 97.4,221.2 97.8,222.7 98.1,224.1 98.5,225.4 98.8,226.5 99.2,227.6 99.5,228.6 99.9,229.5 100.2,230.3 100.6,231.0 100.9,231.7 101.3,232.3 101.6,232.9 102.0,233.4 102.3,233.8 102.7,234.2 103.0,234.6 103.4,234.9 103.7,235.2 104.1,235.5 104.4,235.7 104.8,236.0 105.1,236.2 105.5,236.4 105.8,236.5 106.2,236.7 106.5,236.8 106.8,236.9 107.2,237.0 107.5,237.1 107.9,237.2 108.2,237.3 108.6,237.3 108.9,237.3 109.3,237.3 109.6,237.3 110.0,237.2 110.3,237.1 110.7,237.0 111.0,236.9 111.4,236.7 111.7,236.5 112.1,236.2 112.4,235.9 112.8,235.5 113.1,235.1 113.5,234.7 113.8,234.1 114.2,233.6 114.5,232.9 114.9,232.2 115.2,231.5 115.6,230.6 115.9,229.8 116.3,228.8 116.6,227.9 117.0,226.8 117.3,225.8 117.7,224.7 118.0,223.6 118.4,222.6 118.7,221.5 119.1,220.6 119.4,219.7 119.7,218.9 120.1,218.3 120.4,217.9 120.8,217.6 121.1,217.5 121.5,217.7 121.8,218.1 122.2,218.6 122.5,219.3 122.9,220.2 123.2,221.1 123.6,222.2 123.9,223.3 124.3,224.5 124.6,225.7 125.0,226.8 125.3,228.0 125.7,229.1 126.0,230.2 126.4,231.2 126.7,232.2 127.1,233.1 127.4,234.0 127.8,234.8 128.1,235.5 128.5,236.2 128.8,236.8 129.2,237.4 129.5,237.9 129.9,238.4 130.2,238.9 130.6,239.2 130.9,239.6 131.3,239.9 131.6,240.2 131.9,240.4 132.3,240.7 132.6,240.9 133.0,241.1 133.3,241.2 133.7,241.4 134.0,241.5 134.4,241.6 134.7,241.8 135.1,241.9 135.4,241.9 135.8,242.0 136.1,242.1 136.5,242.2 136.8,242.3 137.2,242.3 137.5,242.4 137.9,242.4 138.2,242.5 138.6,242.5 138.9,242.6 139.3,242.6 139.6,242.7 140.0,242.7 140.3,242.7 140.7,242.8 141.0,242.8 141.4,242.8 141.7,242.9 142.1,242.9 142.4,242.9 142.8,242.9 143.1,243.0 143.5,243.0 143.8,243.0 144.2,243.0 144.5,243.0 144.8,243.0 145.2,243.1 145.5,243.1 145.9,243.1 146.2,243.1 146.6,243.1 146.9,243.1 147.3,243.1 147.6,243.1 148.0,243.1 148.3,243.1 148.7,243.1 149.0,243.1 149.4,243.1 149.7,243.1 150.1,243.1 150.4,243.1 150.8,243.1 151.1,243.1 151.5,243.1 151.8,243.1 152.2,243.0 152.5,243.0 152.9,243.0 153.2,243.0 153.6,242.9 153.9,242.9 154.3,242.8 154.6,242.8 155.0,242.7 155.3,242.6 155.7,242.5 156.0,242.4 156.4,242.2 156.7,242.0 157.1,241.8 157.4,241.4 157.7,241.0 158.1,240.5 158.4,239.9 158.8,239.2 159.1,238.4 159.5,237.5 159.8,236.6 160.2,235.8 160.5,235.2 160.9,235.0 161.2,235.2 161.6,235.7 161.9,236.5 162.3,237.3 162.6,238.2 163.0,239.0 163.3,239.7 163.7,240.3 164.0,240.7 164.4,241.1 164.7,241.4 165.1,241.6 165.4,241.8 165.8,241.9 166.1,242.0 166.5,242.0 166.8,242.0 167.2,242.0 167.5,242.0 167.9,242.0 168.2,242.0 168.6,241.9 168.9,241.9 169.3,241.8 169.6,241.8 169.9,241.7 170.3,241.6 170.6,241.5 171.0,241.4 171.3,241.2 171.7,241.1 172.0,240.9 172.4,240.8 172.7,240.6 173.1,240.4 173.4,240.2 173.8,240.0 174.1,239.8 174.5,239.6 174.8,239.3 175.2,239.1 175.5,238.8 175.9,238.5 176.2,238.2 176.6,237.9 176.9,237.6 177.3,237.2 177.6,236.9 178.0,236.5 178.3,236.1 178.7,235.8 179.0,235.4 179.4,235.0 179.7,234.5 180.1,234.1 180.4,233.7 180.8,233.3 181.1,232.9 181.5,232.4 181.8,232.0 182.2,231.6 182.5,231.1 182.8,230.7 183.2,230.3 183.5,229.9 183.9,229.5 184.2,229.1 184.6,228.7 184.9,228.3 185.3,227.9 185.6,227.5 186.0,227.1 186.3,226.7 186.7,226.2 187.0,225.7 187.4,225.2 187.7,224.6 188.1,223.9 188.4,223.1 188.8,222.2 189.1,221.1 189.5,219.8 189.8,218.3 190.2,216.6 190.5,214.6 190.9,212.4 191.2,210.0 191.6,207.4 191.9,204.5 192.3,201.7 192.6,198.8 193.0,196.2 193.3,193.9 193.7,192.4 194.0,191.6 194.4,191.8 194.7,193.0 195.1,195.1 195.4,197.8 195.7,201.0 196.1,204.4 196.4,207.9 196.8,211.3 197.1,214.5 197.5,217.5 197.8,220.2 198.2,222.7 198.5,224.9 198.9,226.8 199.2,228.5 199.6,229.9 199.9,231.1 200.3,232.1 200.6,233.0 201.0,233.6 201.3,234.2 201.7,234.6 202.0,234.8 202.4,234.9 202.7,234.8 203.1,234.6 203.4,234.1 203.8,233.3 204.1,232.3 204.5,231.1 204.8,229.5 205.2,227.8 205.5,226.1 205.9,224.6 206.2,223.8 206.6,223.8 206.9,224.7 207.3,226.2 207.6,228.1 207.9,230.0 208.3,231.8 208.6,233.3 209.0,234.6 209.3,235.7 209.7,236.5 210.0,237.1 210.4,237.6 210.7,238.0 211.1,238.2 211.4,238.4 211.8,238.5 212.1,238.6 212.5,238.7 212.8,238.7 213.2,238.7 213.5,238.6 213.9,238.5 214.2,238.5 214.6,238.3 214.9,238.2 215.3,238.0 215.6,237.8 216.0,237.5 216.3,237.2 216.7,236.8 217.0,236.4 217.4,235.9 217.7,235.3 218.1,234.6 218.4,233.8 218.8,233.0 219.1,232.0 219.5,230.9 219.8,229.6 220.2,228.3 220.5,226.8 220.8,225.1 221.2,223.4 221.5,221.6 221.9,219.7 222.2,217.8 222.6,215.9 222.9,214.2 223.3,212.7 223.6,211.5 224.0,210.6 224.3,210.3 224.7,210.3 225.0,210.9 225.4,211.8 225.7,213.1 226.1,214.5 226.4,216.0 226.8,217.6 227.1,219.2 227.5,220.7 227.8,222.1 228.2,223.4 228.5,224.5 228.9,225.5 229.2,226.4 229.6,227.1 229.9,227.6 230.3,228.0 230.6,228.3 231.0,228.4 231.3,228.4 231.7,228.3 232.0,228.0 232.4,227.6 232.7,227.0 233.1,226.3 233.4,225.4 233.7,224.3 234.1,223.1 234.4,221.6 234.8,219.8 235.1,217.7 235.5,215.3 235.8,212.6 236.2,209.4 236.5,205.8 236.9,201.7 237.2,197.1 237.6,191.9 237.9,186.2 238.3,179.9 238.6,173.1 239.0,165.7 239.3,157.8 239.7,149.4 240.0,140.8 240.4,131.9 240.7,123.0 241.1,114.3 241.4,106.1 241.8,98.7 242.1,92.4 242.5,87.5 242.8,84.2 243.2,82.5 243.5,82.3 243.9,83.2 244.2,85.0 244.6,87.3 244.9,90.0 245.3,92.8 245.6,95.7 246.0,98.9 246.3,103.0 246.6,108.9 247.0,117.3 247.3,128.2 247.7,140.7 248.0,153.6 248.4,166.1 248.7,177.6 249.1,187.8 249.4,196.6 249.8,204.0 250.1,210.3 250.5,215.4 250.8,219.7 251.2,223.1 251.5,226.0 251.9,228.3 252.2,230.2 252.6,231.7 252.9,233.1 253.3,234.1 253.6,235.1 254.0,235.8 254.3,236.5 254.7,237.1 255.0,237.5 255.4,238.0 255.7,238.3 256.1,238.7 256.4,239.0 256.8,239.3 257.1,239.5 257.5,239.7 257.8,239.9 258.2,240.1 258.5,240.3 258.8,240.5 259.2,240.6 259.5,240.7 259.9,240.9 260.2,241.0 260.6,241.1 260.9,241.2 261.3,241.3 261.6,241.4 262.0,241.5 262.3,241.6 262.7,241.6 263.0,241.7 263.4,241.8 263.7,241.8 264.1,241.9 264.4,242.0 264.8,242.0 265.1,242.0 265.5,242.1 265.8,242.1 266.2,242.2 266.5,242.2 266.9,242.2 267.2,242.3 267.6,242.3 267.9,242.3 268.3,242.3 268.6,242.3 269.0,242.3 269.3,242.4 269.7,242.4 270.0,242.4 270.4,242.4 270.7,242.4 271.1,242.4 271.4,242.4 271.7,242.4 272.1,242.3 272.4,242.3 272.8,242.3 273.1,242.3 273.5,242.3 273.8,242.2 274.2,242.2 274.5,242.2 274.9,242.1 275.2,242.1 275.6,242.1 275.9,242.0 276.3,241.9 276.6,241.9 277.0,241.8 277.3,241.7 277.7,241.6 278.0,241.6 278.4,241.5 278.7,241.3 279.1,241.2 279.4,241.1 279.8,241.0 280.1,240.8 280.5,240.6 280.8,240.4 281.2,240.2 281.5,240.0 281.9,239.8 282.2,239.5 282.6,239.2 282.9,238.8 283.3,238.4 283.6,238.0 284.0,237.5 284.3,237.0 284.6,236.3 285.0,235.6 285.3,234.8 285.7,233.9 286.0,232.8 286.4,231.6 286.7,230.1 287.1,228.3 287.4,226.1 287.8,223.5 288.1,220.1 288.5,215.8 288.8,210.2 289.2,202.8 289.5,193.2 289.9,180.8 290.2,165.0 290.6,145.7 290.9,122.8 291.3,97.6 291.6,73.0 292.0,54.2 292.3,47.1 292.7,54.2 293.0,73.0 293.4,97.6 293.7,122.8 294.1,145.7 294.4,165.1 294.8,180.9 295.1,193.3 295.5,202.9 295.8,210.3 296.2,215.9 296.5,220.2 296.8,223.6 297.2,226.3 297.5,228.5 297.9,230.3 298.2,231.8 298.6,233.0 298.9,234.1 299.3,235.1 299.6,235.9 300.0,236.6 300.3,237.2 300.7,237.8 301.0,238.3 301.4,238.7 301.7,239.1 302.1,239.5 302.4,239.8 302.8,240.1 303.1,240.4 303.5,240.6 303.8,240.8 304.2,241.0 304.5,241.2 304.9,241.4 305.2,241.6 305.6,241.7 305.9,241.8 306.3,242.0 306.6,242.1 307.0,242.2 307.3,242.3 307.7,242.4 308.0,242.5 308.4,242.6 308.7,242.6 309.1,242.7 309.4,242.8 309.7,242.8 310.1,242.9 310.4,243.0 310.8,243.0 311.1,243.1 311.5,243.1 311.8,243.2 312.2,243.2 312.5,243.2 312.9,243.3 313.2,243.3 313.6,243.4 313.9,243.4 314.3,243.4 314.6,243.5 315.0,243.5 315.3,243.5 315.7,243.5 316.0,243.6 316.4,243.6 316.7,243.6 317.1,243.6 317.4,243.7 317.8,243.7 318.1,243.7 318.5,243.7 318.8,243.7 319.2,243.7 319.5,243.8 319.9,243.8 320.2,243.8 320.6,243.8 320.9,243.8 321.3,243.8 321.6,243.9 322.0,243.9 322.3,243.9 322.6,243.9 323.0,243.9 323.3,243.9 323.7,243.9 324.0,243.9 324.4,244.0 324.7,244.0 325.1,244.0 325.4,244.0 325.8,244.0 326.1,244.0 326.5,244.0 326.8,244.0 327.2,244.0 327.5,244.0 327.9,244.1 328.2,244.1 328.6,244.1 328.9,244.1 329.3,244.1 329.6,244.1 330.0,244.1 330.3,244.1 330.7,244.1 331.0,244.1 331.4,244.1 331.7,244.1 332.1,244.2 332.4,244.2 332.8,244.2 333.1,244.2 333.5,244.2 333.8,244.2 334.2,244.2 334.5,244.2 334.8,244.2 335.2,244.2 335.5,244.2 335.9,244.2 336.2,244.2 336.6,244.3 336.9,244.3 337.3,244.3 337.6,244.3 338.0,244.3 338.3,244.3 338.7,244.3 339.0,244.3 339.4,244.3 339.7,244.3 340.1,244.3 340.4,244.3 340.8,244.3 341.1,244.3 341.5,244.3 341.8,244.4 342.2,244.4 342.5,244.4 342.9,244.4 343.2,244.4 343.6,244.4 343.9,244.4 344.3,244.4 344.6,244.4 345.0,244.4 345.3,244.4 345.7,244.4 346.0,244.4 346.4,244.4 346.7,244.4 347.1,244.4 347.4,244.4" />
<polyline fill="none" stroke="#333" stroke-width="0.7" stroke-linejoin="round" points="70.9,236.6 71.7,242.4 73.4,235.8 74.8,242.1 76.7,230.7 77.6,224.9 78.3,224.5 79.0,221.7 79.7,218.6 80.4,216.4 81.1,212.2 81.7,208.2 82.4,205.0 83.1,197.8 83.8,192.8 84.5,188.1 85.2,182.0 85.9,176.0 86.6,171.9 87.3,168.2 88.0,167.1 88.7,165.2 89.4,167.1 90.1,169.9 90.8,175.6 91.5,178.1 92.2,184.8 92.9,190.9 93.6,194.6 94.3,201.6 95.0,207.8 95.7,211.5 96.4,217.0 97.1,217.9 97.8,222.1 98.5,225.0 99.2,225.7 99.9,229.6 100.6,229.3 101.3,232.6 102.0,232.4 102.7,233.6 103.4,232.0 104.1,232.3 104.8,234.3 105.5,233.7 106.2,234.8 106.8,234.5 107.5,235.7 108.2,236.7 108.9,236.8 109.6,235.1 110.3,233.6 111.0,235.0 111.7,235.4 112.4,233.0 113.1,233.7 113.8,232.9 114.5,231.6 115.2,230.6 115.9,229.1 116.6,228.1 117.3,224.5 118.0,222.9 118.7,219.8 119.4,219.2 120.1,219.0 120.8,216.9 121.5,215.5 122.2,218.0 122.9,220.0 123.6,222.2 124.3,224.4 125.0,226.0 125.7,229.0 126.4,228.9 127.1,232.1 127.8,233.4 128.5,233.7 129.2,234.8 129.9,237.1 130.6,237.4 131.3,237.6 131.9,238.8 132.6,240.4 133.3,238.7 134.0,238.7 134.7,239.3 135.4,240.4 136.1,239.9 136.8,240.3 137.5,240.1 138.2,238.9 138.9,238.8 139.6,239.5 140.3,239.6 141.0,239.6 141.7,240.2 142.4,240.3 143.1,240.8 143.8,240.4 144.5,238.6 145.2,239.8 145.9,240.9 146.6,241.1 147.3,241.5 148.0,240.6 148.7,240.7 149.4,242.2 150.1,240.8 150.8,241.7 151.5,240.2 152.2,241.2 152.9,240.0 153.6,241.8 154.3,241.6 155.0,241.1 155.7,240.4 156.4,240.6 157.1,241.6 157.7,239.8 158.4,238.9 159.1,237.7 159.8,236.1 160.5,232.9 161.2,234.6 161.9,236.3 162.6,236.9 163.3,238.8 164.0,240.0 164.7,240.0 165.4,240.6 166.1,240.9 166.8,240.5 167.5,241.1 168.2,241.8 168.9,241.5 169.6,241.5 170.3,240.7 171.0,241.5 171.7,241.9 172.4,240.0 173.1,240.8 173.8,240.9 174.5,238.6 175.2,238.9 175.9,237.4 176.6,237.6 177.3,237.4 178.0,236.8 178.7,235.5 179.4,234.5 180.1,234.1 180.8,232.8 181.5,232.9 182.2,230.8 182.8,231.4 183.5,229.3 184.2,227.8 184.9,226.7 185.6,225.4 186.3,227.2 187.0,224.4 187.7,222.9 188.4,221.6 189.1,221.1 189.8,217.3 190.5,212.4 191.2,210.5 191.9,203.5 192.6,197.2 193.3,193.8 194.0,190.4 194.7,193.2 195.4,197.7 196.1,204.4 196.8,210.4 197.5,216.9 198.2,221.2 198.9,226.8 199.6,229.3 200.3,230.6 201.0,232.5 201.7,234.9 202.4,233.7 203.1,234.2 203.8,232.3 204.5,230.1 205.2,226.1 205.9,223.8 206.6,224.5 207.3,226.6 207.9,228.7 208.6,232.8 209.3,234.0 210.0,236.2 210.7,237.8 211.4,236.8 212.1,238.5 212.8,239.6 213.5,236.2 214.2,239.2 214.9,236.9 215.6,236.3 216.3,236.3 217.0,237.0 217.7,233.7 218.4,234.2 219.1,232.3 219.8,229.2 220.5,225.4 221.2,222.4 221.9,218.3 222.6,215.5 223.3,212.1 224.0,210.8 224.7,209.8 225.4,210.6 226.1,214.0 226.8,216.5 227.5,220.4 228.2,223.1 228.9,224.7 229.6,226.5 230.3,226.8 231.0,227.5 231.7,226.1 232.4,227.0 233.1,225.7 233.7,224.4 234.4,220.8 235.1,216.4 235.8,212.4 236.5,205.0 237.2,195.7 237.9,185.5 238.6,172.7 239.3,156.2 240.0,139.9 240.7,121.9 241.4,104.4 242.1,90.7 242.8,83.7 243.5,81.9 244.2,83.9 244.9,89.3 245.6,96.4 246.3,101.1 247.0,116.5 247.7,139.2 248.4,166.2 249.1,185.9 249.8,203.6 250.5,214.6 251.2,223.3 251.9,227.5 252.6,231.0 253.3,233.4 254.0,234.6 254.7,236.1 255.4,236.3 256.1,238.1 256.8,239.1 257.5,238.8 258.2,238.6 258.8,238.5 259.5,239.1 260.2,241.4 260.9,239.9 261.6,239.2 262.3,240.5 263.0,241.0 263.7,240.5 264.4,241.2 265.1,240.4 265.8,241.0 266.5,239.9 267.2,240.6 267.9,241.6 268.6,240.6 269.3,240.3 270.0,241.5 270.7,241.3 271.4,242.8 272.1,240.2 272.8,241.3 273.5,242.4 274.2,242.0 274.9,240.6 275.6,239.7 276.3,240.2 277.0,239.5 277.7,240.5 278.4,240.4 279.1,238.2 279.8,238.1 280.5,238.1 281.2,236.4 281.9,237.5 282.6,236.2 283.3,234.0 284.0,232.1 284.6,231.9 285.3,228.5 286.0,227.6 286.7,223.3 287.4,218.7 288.1,212.6 288.8,199.6 289.5,180.4 290.2,151.1 290.9,106.9 291.6,54.5 292.3,25.1 293.0,56.4 293.7,106.7 294.4,150.9 295.1,178.5 295.8,197.6 296.5,209.5 297.2,216.1 297.9,217.9 298.6,223.9 299.3,226.4 300.0,227.3 300.7,228.3 301.4,229.7 302.1,231.4 302.8,232.2 303.5,231.3 304.2,232.2 304.9,233.9 305.6,232.0 306.3,232.7 307.0,233.9 307.7,234.3 308.4,234.3 309.1,235.4 309.7,236.3 310.4,235.3 311.1,237.0 311.8,235.9 312.5,237.7 313.2,236.9 313.9,237.2 314.6,235.9 315.3,238.4 316.0,238.9 316.7,238.4 317.4,239.0 318.1,238.7 318.8,238.1 319.5,238.0 320.2,237.4 320.9,239.4 321.6,236.9 322.3,237.5 323.0,239.4 323.7,241.2 324.4,239.5 325.1,239.5 325.8,241.5 326.5,239.7 327.2,240.0 327.9,240.5 328.6,239.5 329.3,239.3 330.0,240.6 330.7,240.1 331.4,240.8 332.1,241.0 332.8,240.4 333.5,240.1 334.2,241.0 334.8,242.4 335.5,240.3 336.2,242.1 336.9,240.7 337.6,239.5 338.3,240.9 339.0,241.9 339.7,242.2 340.4,240.1 341.1,241.1 341.8,240.7 342.5,240.4 343.2,241.3 343.9,241.5 344.6,242.0 345.3,243.8 346.0,242.5 346.7,241.4 347.4,241.5" />
</g>
<line x1="68.50" y1="0.50" x2="68.50" y2="250.40" stroke="#1a1a1a" stroke-width="1.2"/>
<line x1="347.40" y1="0.50" x2="347.40" y2="250.40" stroke="#1a1a1a" stroke-width="1.2"/>
<line x1="63.30" y1="5.80" x2="352.60" y2="5.80" stroke="#1a1a1a" stroke-width="1.2"/>
<line x1="63.30" y1="245.20" x2="68.50" y2="245.20" stroke="#1a1a1a" stroke-width="1.2"/>
<line x1="347.40" y1="245.20" x2="352.60" y2="245.20" stroke="#1a1a1a" stroke-width="1.2"/>
<line x1="63.30" y1="245.20" x2="68.50" y2="245.20" stroke="#1a1a1a" stroke-width="1.1"/>
<line x1="347.40" y1="245.20" x2="352.60" y2="245.20" stroke="#1a1a1a" stroke-width="1.1"/>
<text transform="translate(58.9,249.2) scale(1,1.12)" font-size="11.7" text-anchor="end" fill="#111">0</text>
<line x1="65.50" y1="231.90" x2="68.50" y2="231.90" stroke="#1a1a1a" stroke-width="1.1"/>
<line x1="347.40" y1="231.90" x2="350.40" y2="231.90" stroke="#1a1a1a" stroke-width="1.1"/>
<line x1="63.30" y1="218.60" x2="68.50" y2="218.60" stroke="#1a1a1a" stroke-width="1.1"/>
<line x1="347.40" y1="218.60" x2="352.60" y2="218.60" stroke="#1a1a1a" stroke-width="1.1"/>
<text transform="translate(58.9,222.6) scale(1,1.12)" font-size="11.7" text-anchor="end" fill="#111">200</text>
<line x1="65.50" y1="205.30" x2="68.50" y2="205.30" stroke="#1a1a1a" stroke-width="1.1"/>
<line x1="347.40" y1="205.30" x2="350.40" y2="205.30" stroke="#1a1a1a" stroke-width="1.1"/>
<line x1="63.30" y1="192.00" x2="68.50" y2="192.00" stroke="#1a1a1a" stroke-width="1.1"/>
<line x1="347.40" y1="192.00" x2="352.60" y2="192.00" stroke="#1a1a1a" stroke-width="1.1"/>
<text transform="translate(58.9,196.0) scale(1,1.12)" font-size="11.7" text-anchor="end" fill="#111">400</text>
<line x1="65.50" y1="178.70" x2="68.50" y2="178.70" stroke="#1a1a1a" stroke-width="1.1"/>
<line x1="347.40" y1="178.70" x2="350.40" y2="178.70" stroke="#1a1a1a" stroke-width="1.1"/>
<line x1="63.30" y1="165.40" x2="68.50" y2="165.40" stroke="#1a1a1a" stroke-width="1.1"/>
<line x1="347.40" y1="165.40" x2="352.60" y2="165.40" stroke="#1a1a1a" stroke-width="1.1"/>
<text transform="translate(58.9,169.4) scale(1,1.12)" font-size="11.7" text-anchor="end" fill="#111">600</text>
<line x1="65.50" y1="152.10" x2="68.50" y2="152.10" stroke="#1a1a1a" stroke-width="1.1"/>
<line x1="347.40" y1="152.10" x2="350.40" y2="152.10" stroke="#1a1a1a" stroke-width="1.1"/>
<line x1="63.30" y1="138.80" x2="68.50" y2="138.80" stroke="#1a1a1a" stroke-width="1.1"/>
<line x1="347.40" y1="138.80" x2="352.60" y2="138.80" stroke="#1a1a1a" stroke-width="1.1"/>
<text transform="translate(58.9,142.8) scale(1,1.12)" font-size="11.7" text-anchor="end" fill="#111">800</text>
<line x1="65.50" y1="125.50" x2="68.50" y2="125.50" stroke="#1a1a1a" stroke-width="1.1"/>
<line x1="347.40" y1="125.50" x2="350.40" y2="125.50" stroke="#1a1a1a" stroke-width="1.1"/>
<line x1="63.30" y1="112.20" x2="68.50" y2="112.20" stroke="#1a1a1a" stroke-width="1.1"/>
<line x1="347.40" y1="112.20" x2="352.60" y2="112.20" stroke="#1a1a1a" stroke-width="1.1"/>
<text transform="translate(58.9,116.2) scale(1,1.12)" font-size="11.7" text-anchor="end" fill="#111">1000</text>
<line x1="65.50" y1="98.90" x2="68.50" y2="98.90" stroke="#1a1a1a" stroke-width="1.1"/>
<line x1="347.40" y1="98.90" x2="350.40" y2="98.90" stroke="#1a1a1a" stroke-width="1.1"/>
<line x1="63.30" y1="85.60" x2="68.50" y2="85.60" stroke="#1a1a1a" stroke-width="1.1"/>
<line x1="347.40" y1="85.60" x2="352.60" y2="85.60" stroke="#1a1a1a" stroke-width="1.1"/>
<text transform="translate(58.9,89.6) scale(1,1.12)" font-size="11.7" text-anchor="end" fill="#111">1200</text>
<line x1="65.50" y1="72.30" x2="68.50" y2="72.30" stroke="#1a1a1a" stroke-width="1.1"/>
<line x1="347.40" y1="72.30" x2="350.40" y2="72.30" stroke="#1a1a1a" stroke-width="1.1"/>
<line x1="63.30" y1="59.00" x2="68.50" y2="59.00" stroke="#1a1a1a" stroke-width="1.1"/>
<line x1="347.40" y1="59.00" x2="352.60" y2="59.00" stroke="#1a1a1a" stroke-width="1.1"/>
<text transform="translate(58.9,63.0) scale(1,1.12)" font-size="11.7" text-anchor="end" fill="#111">1400</text>
<line x1="65.50" y1="45.70" x2="68.50" y2="45.70" stroke="#1a1a1a" stroke-width="1.1"/>
<line x1="347.40" y1="45.70" x2="350.40" y2="45.70" stroke="#1a1a1a" stroke-width="1.1"/>
<line x1="63.30" y1="32.40" x2="68.50" y2="32.40" stroke="#1a1a1a" stroke-width="1.1"/>
<line x1="347.40" y1="32.40" x2="352.60" y2="32.40" stroke="#1a1a1a" stroke-width="1.1"/>
<text transform="translate(58.9,36.4) scale(1,1.12)" font-size="11.7" text-anchor="end" fill="#111">1600</text>
<line x1="65.50" y1="19.10" x2="68.50" y2="19.10" stroke="#1a1a1a" stroke-width="1.1"/>
<line x1="347.40" y1="19.10" x2="350.40" y2="19.10" stroke="#1a1a1a" stroke-width="1.1"/>
<line x1="63.30" y1="5.80" x2="68.50" y2="5.80" stroke="#1a1a1a" stroke-width="1.1"/>
<line x1="347.40" y1="5.80" x2="352.60" y2="5.80" stroke="#1a1a1a" stroke-width="1.1"/>
<text transform="translate(58.9,9.8) scale(1,1.12)" font-size="11.7" text-anchor="end" fill="#111">1800</text>
<line x1="68.50" y1="245.20" x2="68.50" y2="250.40" stroke="#1a1a1a" stroke-width="1.1"/>
<line x1="68.50" y1="0.60" x2="68.50" y2="5.80" stroke="#1a1a1a" stroke-width="1.1"/>
<text transform="translate(68.1,264.2) scale(1,1.1)" font-size="12.0" text-anchor="middle" fill="#111">100</text>
<line x1="103.36" y1="245.20" x2="103.36" y2="248.20" stroke="#1a1a1a" stroke-width="1.1"/>
<line x1="103.36" y1="2.80" x2="103.36" y2="5.80" stroke="#1a1a1a" stroke-width="1.1"/>
<line x1="138.22" y1="245.20" x2="138.22" y2="250.40" stroke="#1a1a1a" stroke-width="1.1"/>
<line x1="138.22" y1="0.60" x2="138.22" y2="5.80" stroke="#1a1a1a" stroke-width="1.1"/>
<text transform="translate(137.8,264.2) scale(1,1.1)" font-size="12.0" text-anchor="middle" fill="#111">200</text>
<line x1="173.09" y1="245.20" x2="173.09" y2="248.20" stroke="#1a1a1a" stroke-width="1.1"/>
<line x1="173.09" y1="2.80" x2="173.09" y2="5.80" stroke="#1a1a1a" stroke-width="1.1"/>
<line x1="207.95" y1="245.20" x2="207.95" y2="250.40" stroke="#1a1a1a" stroke-width="1.1"/>
<line x1="207.95" y1="0.60" x2="207.95" y2="5.80" stroke="#1a1a1a" stroke-width="1.1"/>
<text transform="translate(207.5,264.2) scale(1,1.1)" font-size="12.0" text-anchor="middle" fill="#111">300</text>
<line x1="242.81" y1="245.20" x2="242.81" y2="248.20" stroke="#1a1a1a" stroke-width="1.1"/>
<line x1="242.81" y1="2.80" x2="242.81" y2="5.80" stroke="#1a1a1a" stroke-width="1.1"/>
<line x1="277.67" y1="245.20" x2="277.67" y2="250.40" stroke="#1a1a1a" stroke-width="1.1"/>
<line x1="277.67" y1="0.60" x2="277.67" y2="5.80" stroke="#1a1a1a" stroke-width="1.1"/>
<text transform="translate(277.3,264.2) scale(1,1.1)" font-size="12.0" text-anchor="middle" fill="#111">400</text>
<line x1="312.54" y1="245.20" x2="312.54" y2="248.20" stroke="#1a1a1a" stroke-width="1.1"/>
<line x1="312.54" y1="2.80" x2="312.54" y2="5.80" stroke="#1a1a1a" stroke-width="1.1"/>
<line x1="347.40" y1="245.20" x2="347.40" y2="250.40" stroke="#1a1a1a" stroke-width="1.1"/>
<line x1="347.40" y1="0.60" x2="347.40" y2="5.80" stroke="#1a1a1a" stroke-width="1.1"/>
<text transform="translate(347.0,264.2) scale(1,1.1)" font-size="12.0" text-anchor="middle" fill="#111">500</text>
<text transform="translate(20.3,119.5) rotate(-90)" font-size="14.6" text-anchor="middle" fill="#111">Intensity (counts)</text>
<text transform="translate(201.7,283.2) scale(1,1.05)" font-size="14.7" text-anchor="middle" fill="#111">Raman Shift (Cm<tspan dy="-5.5" font-size="9.5">-1</tspan><tspan dy="5.5">)</tspan></text>
<text transform="translate(89.5,36.8)" font-size="14.8" text-anchor="start" fill="#222">(a)</text>
<text transform="translate(91.2,164.3) scale(1,1.33)" font-size="6.3" text-anchor="middle" fill="#333">128</text>
<text transform="translate(121.0,215.8) scale(1,1.33)" font-size="6.3" text-anchor="middle" fill="#333">175</text>
<text transform="translate(161.0,231.8) scale(1,1.33)" font-size="6.3" text-anchor="middle" fill="#333">232</text>
<text transform="translate(183.0,210.0) scale(1,1.33)" font-size="6.3" text-anchor="middle" fill="#333">269</text>
<text transform="translate(196.3,192.5) scale(1,1.33)" font-size="6.3" text-anchor="middle" fill="#333">280</text>
<text transform="translate(208.3,221.5) scale(1,1.33)" font-size="6.3" text-anchor="middle" fill="#333">298</text>
<text transform="translate(225.2,210.0) scale(1,1.33)" font-size="6.3" text-anchor="middle" fill="#333">323</text>
<text transform="translate(251.8,81.2) scale(1,1.24)" font-size="6.7" text-anchor="middle" fill="#333">2LA(<tspan font-style="italic">M</tspan>)</text>
<text transform="translate(249.0,104.6) scale(1,1.13)" font-size="7" text-anchor="start" fill="#333">E<tspan dy="-3.4" dx="0.6" font-size="5.4">1</tspan><tspan dy="6" dx="1.2" font-size="6.4">2g</tspan><tspan dy="-3.2" font-size="6.4">(Γ)</tspan></text>
<text transform="translate(295.2,26.4) scale(1,1.13)" font-size="7" text-anchor="start" fill="#333">A<tspan dy="3.4" dx="0.3" font-size="6.6">1g</tspan><tspan dy="-3.4" font-size="6.4">(Γ)</tspan></text>
<path d="M183.2,211.5 L183.2,219" stroke="#222" stroke-width="0.8" fill="none"/><path d="M181.6,217.8 L183.2,223 L184.8,217.8 Z" fill="#222"/>
<path d="M251.2,105.6 L247.6,117.5" stroke="#222" stroke-width="0.8" fill="none"/><path d="M246.2,116.2 L246.3,121.8 L249.4,117.2 Z" fill="#222"/>
</g>
<g id="chartB">
<clipPath id="cb"><rect x="68.5" y="302.3" width="279.0" height="275.79999999999995"/></clipPath>
<g clip-path="url(#cb)">
<line x1="68.50" y1="576.90" x2="347.50" y2="576.90" stroke="#e07830" stroke-width="1.4"/>
<polyline fill="none" stroke="#b05ce0" stroke-width="1.7" stroke-linejoin="round" points="68.5,575.2 69.2,575.1 69.8,575.0 70.5,574.9 71.2,574.7 71.8,574.6 72.5,574.4 73.2,574.3 73.8,574.1 74.5,574.0 75.1,573.8 75.8,573.6 76.5,573.4 77.1,573.2 77.8,573.0 78.5,572.7 79.1,572.5 79.8,572.2 80.5,571.9 81.1,571.7 81.8,571.4 82.5,571.1 83.1,570.7 83.8,570.4 84.4,570.0 85.1,569.7 85.8,569.3 86.4,568.9 87.1,568.5 87.8,568.0 88.4,567.6 89.1,567.1 89.8,566.6 90.4,566.1 91.1,565.5 91.8,565.0 92.4,564.4 93.1,563.8 93.7,563.2 94.4,562.5 95.1,561.8 95.7,561.1 96.4,560.4 97.1,559.7 97.7,558.9 98.4,558.1 99.1,557.3 99.7,556.4 100.4,555.6 101.0,554.7 101.7,553.7 102.4,552.8 103.0,551.8 103.7,550.8 104.4,549.8 105.0,548.7 105.7,547.6 106.4,546.5 107.0,545.3 107.7,544.2 108.4,543.0 109.0,541.7 109.7,540.5 110.3,539.2 111.0,537.9 111.7,536.5 112.3,535.1 113.0,533.8 113.7,532.3 114.3,530.9 115.0,529.4 115.7,527.9 116.3,526.4 117.0,524.9 117.7,523.3 118.3,521.7 119.0,520.1 119.7,518.5 120.3,516.9 121.0,515.2 121.6,513.6 122.3,511.9 123.0,510.2 123.6,508.5 124.3,506.7 125.0,505.0 125.6,503.3 126.3,501.5 127.0,499.8 127.6,498.0 128.3,496.3 128.9,494.5 129.6,492.8 130.3,491.0 130.9,489.3 131.6,487.6 132.3,485.8 132.9,484.1 133.6,482.4 134.3,480.7 134.9,479.0 135.6,477.4 136.3,475.8 136.9,474.1 137.6,472.6 138.2,471.0 138.9,469.5 139.6,467.9 140.2,466.5 140.9,465.0 141.6,463.6 142.2,462.2 142.9,460.9 143.6,459.6 144.2,458.4 144.9,457.1 145.6,456.0 146.2,454.9 146.9,453.8 147.6,452.8 148.2,451.8 148.9,450.9 149.5,450.0 150.2,449.2 150.9,448.4 151.5,447.7 152.2,447.1 152.9,446.5 153.5,446.0 154.2,445.5 154.9,445.1 155.5,444.8 156.2,444.5 156.8,444.3 157.5,444.1 158.2,444.0 158.8,444.0 159.5,444.0 160.2,444.1 160.8,444.3 161.5,444.5 162.2,444.8 162.8,445.1 163.5,445.5 164.2,445.9 164.8,446.5 165.5,447.0 166.1,447.7 166.8,448.4 167.5,449.1 168.1,449.9 168.8,450.8 169.5,451.7 170.1,452.6 170.8,453.6 171.5,454.7 172.1,455.8 172.8,456.9 173.5,458.1 174.1,459.4 174.8,460.6 175.4,461.9 176.1,463.3 176.8,464.7 177.4,466.1 178.1,467.6 178.8,469.1 179.4,470.6 180.1,472.1 180.8,473.7 181.4,475.3 182.1,476.9 182.8,478.5 183.4,480.2 184.1,481.9 184.8,483.5 185.4,485.2 186.1,486.9 186.7,488.7 187.4,490.4 188.1,492.1 188.7,493.9 189.4,495.6 190.1,497.3 190.7,499.1 191.4,500.8 192.1,502.5 192.7,504.3 193.4,506.0 194.1,507.7 194.7,509.4 195.4,511.1 196.0,512.7 196.7,514.4 197.4,516.0 198.0,517.7 198.7,519.3 199.4,520.9 200.0,522.5 200.7,524.0 201.4,525.6 202.0,527.1 202.7,528.6 203.3,530.0 204.0,531.5 204.7,532.9 205.3,534.3 206.0,535.7 206.7,537.0 207.3,538.3 208.0,539.6 208.7,540.9 209.3,542.1 210.0,543.4 210.7,544.5 211.3,545.7 212.0,546.8 212.7,547.9 213.3,549.0 214.0,550.1 214.6,551.1 215.3,552.1 216.0,553.0 216.6,554.0 217.3,554.9 218.0,555.8 218.6,556.6 219.3,557.5 220.0,558.3 220.6,559.1 221.3,559.8 222.0,560.6 222.6,561.3 223.3,562.0 223.9,562.6 224.6,563.3 225.3,563.9 225.9,564.5 226.6,565.0 227.3,565.6 227.9,566.1 228.6,566.6 229.3,567.1 229.9,567.6 230.6,568.0 231.2,568.5 231.9,568.9 232.6,569.3 233.2,569.7 233.9,570.1 234.6,570.4 235.2,570.7 235.9,571.1 236.6,571.4 237.2,571.7 237.9,571.9 238.6,572.2 239.2,572.5 239.9,572.7 240.6,572.9 241.2,573.2 241.9,573.4 242.5,573.6 243.2,573.8 243.9,573.9 244.5,574.1 245.2,574.3 245.9,574.4 246.5,574.6 247.2,574.7 247.9,574.8 248.5,575.0 249.2,575.1 249.8,575.2 250.5,575.3 251.2,575.4 251.8,575.5 252.5,575.6 253.2,575.7 253.8,575.7 254.5,575.8 255.2,575.9 255.8,576.0 256.5,576.0 257.2,576.1 257.8,576.1 258.5,576.2 259.1,576.2 259.8,576.3 260.5,576.3 261.1,576.4 261.8,576.4 262.5,576.4 263.1,576.5 263.8,576.5 264.5,576.5 265.1,576.6 265.8,576.6 266.5,576.6 267.1,576.6 267.8,576.6 268.4,576.7 269.1,576.7 269.8,576.7 270.4,576.7 271.1,576.7 271.8,576.7 272.4,576.8 273.1,576.8 273.8,576.8 274.4,576.8 275.1,576.8 275.8,576.8 276.4,576.8 277.1,576.8 277.8,576.8 278.4,576.8 279.1,576.8 279.7,576.8 280.4,576.8 281.1,576.8 281.7,576.9 282.4,576.9 283.1,576.9 283.7,576.9 284.4,576.9 285.1,576.9 285.7,576.9 286.4,576.9 287.1,576.9 287.7,576.9 288.4,576.9" />
<polyline fill="none" stroke="#08c4c8" stroke-width="1.7" stroke-linejoin="round" points="81.1,576.8 81.8,576.8 82.5,576.8 83.1,576.8 83.8,576.7 84.4,576.7 85.1,576.7 85.8,576.7 86.4,576.7 87.1,576.7 87.8,576.7 88.4,576.6 89.1,576.6 89.8,576.6 90.4,576.6 91.1,576.5 91.8,576.5 92.4,576.5 93.1,576.5 93.7,576.4 94.4,576.4 95.1,576.4 95.7,576.3 96.4,576.3 97.1,576.2 97.7,576.2 98.4,576.1 99.1,576.1 99.7,576.0 100.4,576.0 101.0,575.9 101.7,575.8 102.4,575.8 103.0,575.7 103.7,575.6 104.4,575.5 105.0,575.5 105.7,575.4 106.4,575.3 107.0,575.2 107.7,575.1 108.4,574.9 109.0,574.8 109.7,574.7 110.3,574.6 111.0,574.4 111.7,574.3 112.3,574.1 113.0,573.9 113.7,573.8 114.3,573.6 115.0,573.4 115.7,573.2 116.3,573.0 117.0,572.8 117.7,572.5 118.3,572.3 119.0,572.0 119.7,571.8 120.3,571.5 121.0,571.2 121.6,570.9 122.3,570.6 123.0,570.2 123.6,569.9 124.3,569.5 125.0,569.2 125.6,568.8 126.3,568.4 127.0,567.9 127.6,567.5 128.3,567.0 128.9,566.5 129.6,566.0 130.3,565.5 130.9,565.0 131.6,564.4 132.3,563.8 132.9,563.2 133.6,562.6 134.3,561.9 134.9,561.3 135.6,560.6 136.3,559.9 136.9,559.1 137.6,558.3 138.2,557.5 138.9,556.7 139.6,555.9 140.2,555.0 140.9,554.1 141.6,553.2 142.2,552.2 142.9,551.2 143.6,550.2 144.2,549.2 144.9,548.1 145.6,547.0 146.2,545.9 146.9,544.7 147.6,543.6 148.2,542.3 148.9,541.1 149.5,539.8 150.2,538.5 150.9,537.2 151.5,535.8 152.2,534.4 152.9,533.0 153.5,531.6 154.2,530.1 154.9,528.6 155.5,527.0 156.2,525.5 156.8,523.9 157.5,522.3 158.2,520.6 158.8,519.0 159.5,517.3 160.2,515.6 160.8,513.8 161.5,512.1 162.2,510.3 162.8,508.5 163.5,506.6 164.2,504.8 164.8,502.9 165.5,501.0 166.1,499.1 166.8,497.2 167.5,495.3 168.1,493.4 168.8,491.4 169.5,489.5 170.1,487.5 170.8,485.5 171.5,483.5 172.1,481.6 172.8,479.6 173.5,477.6 174.1,475.6 174.8,473.6 175.4,471.6 176.1,469.7 176.8,467.7 177.4,465.7 178.1,463.8 178.8,461.9 179.4,460.0 180.1,458.1 180.8,456.2 181.4,454.3 182.1,452.5 182.8,450.7 183.4,448.9 184.1,447.1 184.8,445.4 185.4,443.7 186.1,442.0 186.7,440.4 187.4,438.8 188.1,437.3 188.7,435.7 189.4,434.3 190.1,432.8 190.7,431.5 191.4,430.1 192.1,428.8 192.7,427.6 193.4,426.4 194.1,425.3 194.7,424.2 195.4,423.2 196.0,422.2 196.7,421.3 197.4,420.5 198.0,419.7 198.7,418.9 199.4,418.3 200.0,417.7 200.7,417.1 201.4,416.6 202.0,416.2 202.7,415.9 203.3,415.6 204.0,415.4 204.7,415.2 205.3,415.1 206.0,415.1 206.7,415.2 207.3,415.3 208.0,415.5 208.7,415.7 209.3,416.1 210.0,416.5 210.7,416.9 211.3,417.5 212.0,418.1 212.7,418.7 213.3,419.5 214.0,420.3 214.6,421.1 215.3,422.0 216.0,423.0 216.6,424.1 217.3,425.2 218.0,426.3 218.6,427.6 219.3,428.8 220.0,430.2 220.6,431.5 221.3,433.0 222.0,434.4 222.6,435.9 223.3,437.5 223.9,439.1 224.6,440.8 225.3,442.4 225.9,444.2 226.6,445.9 227.3,447.7 227.9,449.5 228.6,451.4 229.3,453.3 229.9,455.2 230.6,457.1 231.2,459.0 231.9,461.0 232.6,463.0 233.2,465.0 233.9,467.0 234.6,469.0 235.2,471.0 235.9,473.1 236.6,475.1 237.2,477.1 237.9,479.2 238.6,481.2 239.2,483.3 239.9,485.3 240.6,487.3 241.2,489.4 241.9,491.4 242.5,493.4 243.2,495.4 243.9,497.4 244.5,499.3 245.2,501.3 245.9,503.2 246.5,505.1 247.2,507.0 247.9,508.9 248.5,510.8 249.2,512.6 249.8,514.4 250.5,516.2 251.2,517.9 251.8,519.7 252.5,521.4 253.2,523.1 253.8,524.7 254.5,526.3 255.2,527.9 255.8,529.5 256.5,531.0 257.2,532.5 257.8,534.0 258.5,535.4 259.1,536.8 259.8,538.2 260.5,539.6 261.1,540.9 261.8,542.2 262.5,543.4 263.1,544.6 263.8,545.8 264.5,547.0 265.1,548.1 265.8,549.2 266.5,550.3 267.1,551.3 267.8,552.3 268.4,553.3 269.1,554.3 269.8,555.2 270.4,556.1 271.1,556.9 271.8,557.8 272.4,558.6 273.1,559.4 273.8,560.1 274.4,560.9 275.1,561.6 275.8,562.2 276.4,562.9 277.1,563.5 277.8,564.1 278.4,564.7 279.1,565.3 279.7,565.8 280.4,566.4 281.1,566.9 281.7,567.4 282.4,567.8 283.1,568.3 283.7,568.7 284.4,569.1 285.1,569.5 285.7,569.9 286.4,570.2 287.1,570.6 287.7,570.9 288.4,571.2 289.0,571.5 289.7,571.8 290.4,572.1 291.0,572.3 291.7,572.6 292.4,572.8 293.0,573.0 293.7,573.3 294.4,573.5 295.0,573.7 295.7,573.8 296.4,574.0 297.0,574.2 297.7,574.3 298.3,574.5 299.0,574.6 299.7,574.8 300.3,574.9 301.0,575.0 301.7,575.1 302.3,575.2 303.0,575.3 303.7,575.4 304.3,575.5 305.0,575.6 305.6,575.7 306.3,575.8 307.0,575.8 307.6,575.9 308.3,576.0 309.0,576.0 309.6,576.1 310.3,576.1 311.0,576.2 311.6,576.2 312.3,576.3 313.0,576.3 313.6,576.4 314.3,576.4 314.9,576.4 315.6,576.5 316.3,576.5 316.9,576.5 317.6,576.6 318.3,576.6 318.9,576.6 319.6,576.6 320.3,576.6 320.9,576.7 321.6,576.7 322.3,576.7 322.9,576.7 323.6,576.7 324.2,576.7 324.9,576.7 325.6,576.8" />
<polyline fill="none" stroke="#2060e0" stroke-width="1.7" stroke-linejoin="round" points="170.1,576.9 170.8,576.9 171.5,576.9 172.1,576.9 172.8,576.9 173.5,576.9 174.1,576.9 174.8,576.9 175.4,576.9 176.1,576.9 176.8,576.9 177.4,576.9 178.1,576.9 178.8,576.9 179.4,576.9 180.1,576.9 180.8,576.9 181.4,576.9 182.1,576.9 182.8,576.9 183.4,576.9 184.1,576.9 184.8,576.9 185.4,576.9 186.1,576.9 186.7,576.9 187.4,576.9 188.1,576.9 188.7,576.9 189.4,576.9 190.1,576.8 190.7,576.8 191.4,576.8 192.1,576.8 192.7,576.8 193.4,576.8 194.1,576.8 194.7,576.8 195.4,576.7 196.0,576.7 196.7,576.7 197.4,576.7 198.0,576.6 198.7,576.6 199.4,576.6 200.0,576.5 200.7,576.5 201.4,576.4 202.0,576.4 202.7,576.3 203.3,576.3 204.0,576.2 204.7,576.1 205.3,576.0 206.0,576.0 206.7,575.9 207.3,575.7 208.0,575.6 208.7,575.5 209.3,575.4 210.0,575.2 210.7,575.1 211.3,574.9 212.0,574.7 212.7,574.5 213.3,574.3 214.0,574.1 214.6,573.8 215.3,573.6 216.0,573.3 216.6,573.0 217.3,572.7 218.0,572.4 218.6,572.0 219.3,571.7 220.0,571.3 220.6,570.9 221.3,570.5 222.0,570.1 222.6,569.7 223.3,569.2 223.9,568.7 224.6,568.2 225.3,567.7 225.9,567.2 226.6,566.7 227.3,566.1 227.9,565.5 228.6,565.0 229.3,564.4 229.9,563.8 230.6,563.2 231.2,562.6 231.9,562.0 232.6,561.4 233.2,560.8 233.9,560.1 234.6,559.5 235.2,558.9 235.9,558.3 236.6,557.8 237.2,557.2 237.9,556.6 238.6,556.1 239.2,555.6 239.9,555.1 240.6,554.6 241.2,554.1 241.9,553.7 242.5,553.3 243.2,552.9 243.9,552.6 244.5,552.3 245.2,552.0 245.9,551.7 246.5,551.5 247.2,551.4 247.9,551.2 248.5,551.2 249.2,551.1 249.8,551.1 250.5,551.1 251.2,551.2 251.8,551.3 252.5,551.4 253.2,551.6 253.8,551.8 254.5,552.1 255.2,552.4 255.8,552.7 256.5,553.1 257.2,553.4 257.8,553.9 258.5,554.3 259.1,554.8 259.8,555.3 260.5,555.8 261.1,556.3 261.8,556.9 262.5,557.4 263.1,558.0 263.8,558.6 264.5,559.2 265.1,559.8 265.8,560.4 266.5,561.0 267.1,561.6 267.8,562.2 268.4,562.8 269.1,563.4 269.8,564.0 270.4,564.6 271.1,565.2 271.8,565.8 272.4,566.3 273.1,566.9 273.8,567.4 274.4,567.9 275.1,568.4 275.8,568.9 276.4,569.4 277.1,569.8 277.8,570.3 278.4,570.7 279.1,571.1 279.7,571.5 280.4,571.8 281.1,572.2 281.7,572.5 282.4,572.8 283.1,573.1 283.7,573.4 284.4,573.7 285.1,573.9 285.7,574.2 286.4,574.4 287.1,574.6 287.7,574.8 288.4,575.0 289.0,575.1 289.7,575.3 290.4,575.4 291.0,575.6 291.7,575.7 292.4,575.8 293.0,575.9 293.7,576.0 294.4,576.1 295.0,576.2 295.7,576.2 296.4,576.3 297.0,576.4 297.7,576.4 298.3,576.5 299.0,576.5 299.7,576.6 300.3,576.6 301.0,576.6 301.7,576.7 302.3,576.7 303.0,576.7 303.7,576.7 304.3,576.8 305.0,576.8 305.6,576.8 306.3,576.8 307.0,576.8 307.6,576.8 308.3,576.8 309.0,576.8 309.6,576.8 310.3,576.9 311.0,576.9 311.6,576.9 312.3,576.9 313.0,576.9 313.6,576.9 314.3,576.9 314.9,576.9 315.6,576.9 316.3,576.9 316.9,576.9 317.6,576.9" />
<polyline fill="none" stroke="#20a050" stroke-width="1.4" stroke-linejoin="round" points="148.3,576.9 148.5,576.9 148.6,576.9 148.7,576.9 148.9,576.9 149.0,576.9 149.1,576.9 149.3,576.9 149.4,576.9 149.5,576.9 149.7,576.9 149.8,562.8 149.9,548.7 150.1,548.1 150.2,547.6 150.3,547.1 150.5,532.1 150.6,517.2 150.7,514.3 150.9,511.5 151.0,508.6 151.1,505.7 151.3,502.8 151.4,500.0 151.5,502.8 151.7,505.7 151.8,508.6 151.9,511.5 152.1,514.3 152.2,517.2 152.3,532.1 152.5,547.1 152.6,547.6 152.7,548.1 152.9,548.7 153.0,562.8 153.1,576.9 153.3,576.9 153.4,576.9 153.5,576.9 153.7,576.9 153.8,576.9 153.9,576.9 154.1,576.9 154.2,576.9 154.3,576.9 154.5,576.9 154.6,576.9 154.7,576.9 154.9,576.9 155.0,576.9" />
<polyline fill="none" stroke="#e0a010" stroke-width="1.3" stroke-linejoin="round" points="135.9,576.8 136.0,576.7 136.1,576.6 136.3,576.5 136.4,576.3 136.5,576.1 136.7,575.8 136.8,575.5 136.9,575.0 137.1,574.5 137.2,573.8 137.3,573.1 137.5,572.1 137.6,571.1 137.7,570.0 137.9,568.7 138.0,567.3 138.1,565.9 138.2,564.4 138.4,562.9 138.5,561.5 138.6,560.1 138.8,558.9 138.9,557.9 139.0,557.1 139.2,556.5 139.3,556.3 139.4,556.3 139.6,556.6 139.7,557.2 139.8,558.1 140.0,559.1 140.1,560.4 140.2,561.7 140.4,563.2 140.5,564.7 140.6,566.2 140.8,567.6 140.9,568.9 141.0,570.2 141.2,571.3 141.3,572.3 141.4,573.2 141.6,574.0 141.7,574.6 141.8,575.1 142.0,575.5 142.1,575.9 142.2,576.1 142.4,576.3 142.5,576.5 142.6,576.6 142.8,576.7 142.9,576.8 143.0,576.8 143.2,576.8 143.3,576.9 143.4,576.9 143.6,576.9 143.7,576.9 143.8,576.9 144.0,576.9 144.1,576.9 144.2,576.9 144.4,576.9 144.5,576.9 144.6,576.9 144.8,576.9 144.9,576.9 145.0,576.9 145.2,576.9 145.3,576.9 145.4,576.9 145.6,576.9 145.7,576.9 145.8,576.9 146.0,576.9 146.1,576.9 146.2,576.9 146.4,576.9 146.5,576.9 146.6,576.9 146.8,576.9 146.9,576.9 147.0,576.9" />
<polyline fill="none" stroke="#a0a010" stroke-width="1.3" stroke-linejoin="round" points="135.9,576.9 136.0,576.9 136.1,576.9 136.3,576.9 136.4,576.9 136.5,576.9 136.7,576.9 136.8,576.9 136.9,576.9 137.1,576.9 137.2,576.9 137.3,576.9 137.5,576.9 137.6,576.9 137.7,576.9 137.9,576.9 138.0,576.9 138.1,576.9 138.2,576.9 138.4,576.9 138.5,576.9 138.6,576.9 138.8,576.8 138.9,576.8 139.0,576.8 139.2,576.7 139.3,576.7 139.4,576.6 139.6,576.5 139.7,576.4 139.8,576.2 140.0,576.0 140.1,575.8 140.2,575.4 140.4,575.1 140.5,574.6 140.6,574.1 140.8,573.5 140.9,572.9 141.0,572.1 141.2,571.3 141.3,570.5 141.4,569.6 141.6,568.7 141.7,567.8 141.8,566.9 142.0,566.1 142.1,565.3 142.2,564.6 142.4,564.1 142.5,563.7 142.6,563.4 142.8,563.4 142.9,563.4 143.0,563.7 143.2,564.1 143.3,564.6 143.4,565.3 143.6,566.1 143.7,566.9 143.8,567.8 144.0,568.7 144.1,569.6 144.2,570.5 144.4,571.3 144.5,572.1 144.6,572.9 144.8,573.5 144.9,574.1 145.0,574.6 145.2,575.1 145.3,575.4 145.4,575.8 145.6,576.0 145.7,576.2 145.8,576.4 146.0,576.5 146.1,576.6 146.2,576.7 146.4,576.7 146.5,576.8 146.6,576.8 146.8,576.8 146.9,576.9 147.0,576.9" />
<polyline fill="none" stroke="#903050" stroke-width="1.3" stroke-linejoin="round" points="131.1,576.9 131.2,576.9 131.3,576.8 131.5,576.8 131.6,576.7 131.7,576.6 131.9,576.5 132.0,576.3 132.1,576.0 132.3,575.6 132.4,575.1 132.5,574.6 132.7,574.1 132.8,573.5 132.9,573.0 133.1,572.6 133.2,572.3 133.3,572.2 133.5,572.3 133.6,572.6 133.7,573.0 133.9,573.5 134.0,574.1 134.1,574.6 134.3,575.1 134.4,575.6 134.5,576.0 134.7,576.3 134.8,576.5 134.9,576.6 135.1,576.7 135.2,576.8 135.3,576.8 135.5,576.9 135.6,576.9 135.7,576.9 135.9,576.9 136.0,576.9 136.1,576.9" />
<polyline fill="none" stroke="#ff1888" stroke-width="1.2" stroke-linejoin="round" points="68.1,574.3 69.0,574.6 69.9,574.2 70.7,573.5 71.6,574.7 72.5,574.0 73.4,574.8 74.2,572.5 75.1,573.0 76.0,572.4 76.9,571.2 77.7,571.3 78.6,571.9 79.5,570.8 80.4,572.3 81.3,570.3 82.1,570.2 83.0,571.1 83.9,568.2 84.8,569.4 85.6,567.7 86.5,568.0 87.4,566.3 88.3,565.4 89.1,566.4 90.0,566.3 90.9,564.4 91.8,562.8 92.7,562.9 93.5,562.2 94.4,560.4 95.3,562.1 96.2,559.4 97.0,558.9 97.9,556.4 98.8,556.1 99.7,555.1 100.5,553.3 101.4,552.8 102.3,550.3 103.2,549.4 104.1,547.6 104.9,546.4 105.8,543.4 106.7,542.6 107.6,540.4 108.4,538.6 109.3,537.8 110.2,534.8 111.1,533.0 112.0,531.0 112.8,529.5 113.7,527.4 114.6,524.2 115.5,520.8 116.3,520.9 117.2,517.4 118.1,515.7 119.0,512.3 119.9,510.1 120.8,507.0 121.7,507.5 122.5,503.0 123.4,500.6 124.3,497.1 125.2,494.8 126.1,491.9 127.0,487.9 127.9,484.0 128.8,484.9 129.7,479.9 130.6,476.3 131.5,473.1 132.4,467.5 133.3,464.4 134.2,464.2 135.1,460.6 136.0,456.8 136.9,452.0 137.8,442.4 138.7,429.6 139.6,426.1 140.5,428.8 141.4,428.3 142.3,423.5 143.2,420.9 144.1,424.5 145.0,424.5 145.8,423.0 146.7,422.4 147.6,418.3 148.5,416.8 149.3,412.7 150.2,388.5 151.1,350.9 151.9,315.8 152.8,361.0 153.6,401.1 154.5,397.9 155.3,394.7 156.2,392.2 157.0,389.4 157.9,387.7 158.7,384.3 159.6,381.9 160.4,381.1 161.3,379.8 162.1,376.1 163.0,373.8 163.8,373.0 164.7,372.2 165.6,369.2 166.4,366.6 167.3,367.8 168.1,364.4 169.0,363.6 169.9,362.7 170.7,360.4 171.6,360.6 172.5,358.2 173.4,356.4 174.2,356.3 175.1,356.2 176.0,356.1 176.8,355.0 177.7,354.8 178.6,351.4 179.5,352.3 180.3,352.5 181.2,352.3 182.1,351.8 183.0,351.0 183.8,351.5 184.7,349.0 185.6,350.9 186.5,351.0 187.4,350.2 188.2,349.5 189.1,349.8 190.0,351.6 190.9,351.3 191.7,351.9 192.6,352.1 193.5,352.9 194.4,354.5 195.2,355.5 196.1,355.1 197.0,357.1 197.9,355.9 198.8,358.0 199.6,359.9 200.5,360.5 201.4,361.8 202.3,362.8 203.1,363.2 204.0,366.5 204.9,368.3 205.8,368.1 206.6,370.1 207.5,371.4 208.4,372.9 209.3,375.2 210.2,376.2 211.0,379.5 211.9,380.7 212.8,383.4 213.7,385.7 214.5,386.4 215.4,388.6 216.3,392.8 217.2,394.4 218.0,395.5 218.9,397.2 219.8,400.9 220.7,402.9 221.6,406.2 222.4,405.5 223.3,409.5 224.2,411.6 225.1,414.3 225.9,416.5 226.8,419.3 227.7,422.5 228.6,424.1 229.4,427.1 230.3,428.6 231.2,432.8 232.1,435.1 233.0,436.7 233.8,438.7 234.7,442.1 235.6,445.3 236.5,447.3 237.3,450.1 238.2,450.7 239.1,454.1 240.0,456.3 240.8,459.6 241.7,462.9 242.6,464.0 243.5,466.2 244.3,469.7 245.2,472.8 246.1,474.5 247.0,478.3 247.9,480.0 248.7,483.8 249.6,486.7 250.5,488.1 251.4,491.0 252.2,492.4 253.1,496.9 254.0,499.3 254.9,502.9 255.7,506.2 256.6,508.8 257.5,509.6 258.4,513.6 259.3,514.4 260.1,516.7 261.0,520.6 261.9,521.6 262.8,525.3 263.6,527.0 264.5,530.5 265.4,531.9 266.3,535.7 267.1,536.7 268.0,539.8 268.9,541.7 269.8,543.2 270.7,545.5 271.5,547.7 272.4,548.9 273.3,550.7 274.2,554.2 275.0,554.3 275.9,555.8 276.8,558.5 277.7,559.0 278.5,561.7 279.4,560.8 280.3,563.4 281.2,564.4 282.1,564.4 282.9,566.5 283.8,566.8 284.7,569.0 285.6,569.4 286.4,570.8 287.3,570.5 288.2,570.1 289.1,571.4 289.9,571.3 290.8,573.3 291.7,573.6 292.6,573.6 293.5,573.1 294.3,573.6 295.2,574.1 296.1,573.8 297.0,574.6 297.8,574.7 298.7,573.8 299.6,575.5 300.5,575.0 301.3,573.9 302.2,575.2 303.1,574.8 304.0,575.9 304.9,573.9 305.7,577.4 306.6,576.5 307.5,576.2 308.4,573.9 309.2,575.0 310.1,575.3 311.0,575.6 311.9,574.4 312.7,575.4 313.6,576.8 314.5,576.7 315.4,575.7 316.3,573.2 317.1,572.6 318.0,572.7 318.9,574.0 319.8,575.3 320.6,573.1 321.5,573.5 322.4,574.2 323.3,573.8 324.1,574.9 325.0,576.0 325.9,575.6 326.8,575.1 327.7,573.2 328.5,574.8 329.4,573.9 330.3,573.7 331.2,572.6 332.0,574.0 332.9,575.6 333.8,576.1 334.7,574.4 335.5,575.5 336.4,574.8 337.3,576.2 338.2,574.8 339.1,576.1 339.9,574.5 340.8,575.5 341.7,575.2 342.6,575.0 343.4,574.5 344.3,576.4 345.2,573.9 346.1,574.8 346.9,576.2" />
<polyline fill="none" stroke="#383838" stroke-width="1.1" stroke-linejoin="round" points="68.5,575.2 69.2,575.1 69.8,575.0 70.5,574.8 71.2,574.7 71.8,574.6 72.5,574.4 73.2,574.2 73.8,574.1 74.5,573.9 75.1,573.7 75.8,573.5 76.5,573.3 77.1,573.1 77.8,572.9 78.5,572.6 79.1,572.4 79.8,572.1 80.5,571.8 81.1,571.5 81.8,571.2 82.5,570.9 83.1,570.6 83.8,570.2 84.4,569.9 85.1,569.5 85.8,569.1 86.4,568.7 87.1,568.2 87.8,567.8 88.4,567.3 89.1,566.8 89.8,566.3 90.4,565.7 91.1,565.2 91.8,564.6 92.4,564.0 93.1,563.3 93.7,562.7 94.4,562.0 95.1,561.3 95.7,560.6 96.4,559.8 97.1,559.0 97.7,558.2 98.4,557.4 99.1,556.5 99.7,555.6 100.4,554.7 101.1,553.7 101.7,552.7 102.4,551.7 103.0,550.6 103.7,549.5 104.4,548.4 105.0,547.3 105.7,546.1 106.4,544.9 107.0,543.6 107.7,542.3 108.4,541.0 109.0,539.6 109.7,538.3 110.4,536.8 111.0,535.4 111.7,533.9 112.4,532.4 113.0,530.8 113.7,529.2 114.3,527.6 115.0,525.9 115.7,524.2 116.3,522.5 117.0,520.7 117.7,518.9 118.4,517.1 119.0,515.3 119.7,513.4 120.4,511.5 121.0,509.5 121.7,507.5 122.4,505.5 123.0,503.5 123.7,501.5 124.4,499.4 125.1,497.3 125.8,495.1 126.4,493.0 127.1,490.8 127.2,490.4 127.4,489.9 127.5,489.5 127.7,489.1 127.8,488.6 127.9,488.2 128.1,487.7 128.2,487.3 128.3,486.8 128.5,486.4 128.6,486.0 128.7,485.5 128.9,485.1 129.0,484.6 129.1,484.2 129.3,483.7 129.4,483.3 129.6,482.8 129.7,482.4 129.8,481.9 130.0,481.5 130.1,481.0 130.2,480.6 130.4,480.1 130.5,479.6 130.6,479.2 130.8,478.7 130.9,478.3 131.1,477.8 131.2,477.4 131.3,476.9 131.5,476.4 131.6,475.9 131.7,475.4 131.9,474.9 132.0,474.3 132.2,473.7 132.3,473.0 132.4,472.3 132.6,471.5 132.7,470.5 132.8,469.5 133.0,468.5 133.1,467.5 133.2,466.5 133.4,465.6 133.5,464.9 133.7,464.4 133.8,464.0 133.9,463.8 134.1,463.7 134.2,463.8 134.3,463.9 134.5,464.0 134.6,464.0 134.8,464.0 134.9,463.9 135.0,463.7 135.2,463.5 135.3,463.1 135.4,462.8 135.6,462.4 135.7,461.9 135.9,461.5 136.0,461.0 136.1,460.5 136.3,460.0 136.4,459.4 136.5,458.9 136.7,458.3 136.8,457.6 136.9,457.0 137.1,456.2 137.2,455.4 137.4,454.5 137.5,453.5 137.6,452.3 137.8,451.1 137.9,449.7 138.0,448.2 138.2,446.6 138.3,444.8 138.5,443.0 138.6,441.1 138.7,439.1 138.9,437.1 139.0,435.2 139.1,433.4 139.3,431.7 139.4,430.2 139.5,428.9 139.7,427.8 139.8,427.0 140.0,426.5 140.1,426.3 140.2,426.3 140.4,426.5 140.5,426.8 140.6,427.4 140.8,427.9 140.9,428.6 141.0,429.1 141.2,429.6 141.3,430.0 141.4,430.2 141.6,430.3 141.7,430.2 141.9,429.8 142.0,429.4 142.1,428.7 142.3,428.0 142.4,427.2 142.5,426.3 142.7,425.4 142.8,424.5 142.9,423.7 143.1,423.0 143.2,422.4 143.3,422.0 143.5,421.6 143.6,421.5 143.7,421.4 143.9,421.5 144.0,421.8 144.1,422.1 144.3,422.5 144.4,422.9 144.5,423.3 144.7,423.8 144.8,424.2 144.9,424.6 145.1,425.0 145.2,425.2 145.3,425.4 145.5,425.6 145.6,425.6 145.7,425.6 145.9,425.5 146.0,425.4 146.1,425.2 146.3,425.0 146.4,424.7 146.5,424.4 146.7,424.0 146.8,423.6 146.9,423.3 147.1,422.9 147.2,422.4 147.3,422.0 147.5,421.6 147.6,421.2 147.7,420.7 147.9,420.3 148.0,419.8 148.1,419.4 148.3,419.0 148.4,418.5 148.5,418.1 148.7,417.7 148.8,417.2 148.9,416.8 149.0,416.4 149.2,415.9 149.3,415.5 149.4,415.1 149.6,414.6 149.7,414.2 149.8,413.8 150.0,413.4 150.1,412.9 150.2,412.5 150.4,398.0 150.5,383.4 150.6,382.5 150.7,381.5 150.9,380.5 151.0,365.2 151.1,349.9 151.3,346.6 151.4,343.3 151.5,340.0 151.7,336.7 151.8,333.4 151.9,330.1 152.0,332.6 152.2,335.1 152.3,337.5 152.4,340.0 152.6,342.5 152.7,344.9 152.8,359.5 153.0,374.0 153.1,374.1 153.2,374.2 153.3,374.4 153.5,388.1 153.6,401.8 153.7,401.4 153.9,401.0 154.0,400.6 154.1,400.2 154.2,399.9 154.4,399.5 154.5,399.1 154.6,398.7 154.8,398.3 154.9,397.9 155.0,397.5 155.1,397.2 155.3,396.8 155.4,396.4 155.5,396.0 155.7,395.7 155.8,395.3 155.9,394.9 156.0,394.5 156.2,394.2 156.3,393.8 156.4,393.4 156.6,393.1 156.7,392.7 156.8,392.3 156.9,392.0 157.1,391.6 157.2,391.2 157.3,390.9 157.5,390.5 157.6,390.2 157.7,389.8 157.8,389.5 158.0,389.1 158.1,388.8 158.2,388.4 158.4,388.1 158.5,387.7 158.6,387.4 158.7,387.0 158.9,386.7 159.0,386.4 159.1,386.0 159.8,384.4 160.4,382.7 161.1,381.1 161.7,379.6 162.4,378.1 163.0,376.6 163.7,375.2 164.3,373.8 165.0,372.4 165.6,371.1 166.3,369.8 166.9,368.6 167.6,367.4 168.2,366.2 168.9,365.1 169.5,364.1 170.2,363.0 170.8,362.0 171.5,361.1 172.2,360.2 172.8,359.3 173.5,358.5 174.1,357.7 174.8,357.0 175.5,356.3 176.1,355.7 176.8,355.0 177.5,354.5 178.1,354.0 178.8,353.5 179.4,353.0 180.1,352.6 180.8,352.3 181.4,351.9 182.1,351.7 182.8,351.4 183.4,351.2 184.1,351.1 184.8,350.9 185.4,350.9 186.1,350.8 186.7,350.8 187.4,350.9 188.1,351.0 188.7,351.1 189.4,351.2 190.1,351.4 190.7,351.7 191.4,352.0 192.1,352.3 192.7,352.7 193.4,353.1 194.1,353.5 194.7,354.0 195.4,354.5 196.0,355.1 196.7,355.7 197.4,356.3 198.0,357.0 198.7,357.7 199.4,358.4 200.0,359.2 200.7,360.1 201.4,360.9 202.0,361.8 202.7,362.8 203.4,363.8 204.0,364.8 204.7,365.9 205.3,366.9 206.0,368.1 206.7,369.2 207.3,370.4 208.0,371.7 208.7,373.0 209.3,374.3 210.0,375.6 210.7,377.0 211.3,378.5 212.0,379.9 212.7,381.4 213.3,382.9 214.0,384.5 214.6,386.0 215.3,387.6 216.0,389.3 216.6,390.9 217.3,392.6 218.0,394.3 218.6,396.0 219.3,397.7 220.0,399.5 220.6,401.3 221.3,403.1 222.0,404.9 222.6,406.7 223.3,408.5 223.9,410.3 224.6,412.2 225.3,414.0 225.9,415.9 226.6,417.8 227.3,419.6 227.9,421.5 228.6,423.4 229.3,425.3 229.9,427.2 230.6,429.0 231.3,430.9 231.9,432.8 232.6,434.7 233.2,436.6 233.9,438.5 234.6,440.4 235.2,442.3 235.9,444.2 236.6,446.1 237.2,448.0 237.9,449.9 238.6,451.8 239.2,453.7 239.9,455.6 240.6,457.6 241.2,459.5 241.9,461.4 242.5,463.4 243.2,465.3 243.9,467.3 244.5,469.2 245.2,471.2 245.9,473.1 246.5,475.1 247.2,477.1 247.9,479.1 248.5,481.1 249.2,483.1 249.8,485.1 250.5,487.1 251.2,489.2 251.8,491.2 252.5,493.2 253.2,495.2 253.8,497.3 254.5,499.3 255.2,501.3 255.8,503.3 256.5,505.4 257.2,507.4 257.8,509.4 258.5,511.4 259.1,513.3 259.8,515.3 260.5,517.3 261.1,519.2 261.8,521.1 262.5,523.0 263.1,524.9 263.8,526.7 264.5,528.5 265.1,530.3 265.8,532.1 266.5,533.8 267.1,535.5 267.8,537.2 268.4,538.8 269.1,540.4 269.8,541.9 270.4,543.4 271.1,544.9 271.8,546.4 272.4,547.7 273.1,549.1 273.8,550.4 274.4,551.7 275.1,552.9 275.8,554.1 276.4,555.2 277.1,556.3 277.8,557.4 278.4,558.4 279.1,559.4 279.7,560.3 280.4,561.2 281.1,562.1 281.7,562.9 282.4,563.7 283.1,564.4 283.7,565.1 284.4,565.8 285.1,566.5 285.7,567.1 286.4,567.7 287.1,568.2 287.7,568.7 288.4,569.2 289.0,569.7 289.7,570.1 290.4,570.6 291.0,571.0 291.7,571.3 292.4,571.7 293.0,572.0 293.7,572.3 294.4,572.6 295.0,572.9 295.7,573.2 296.4,573.4 297.0,573.6 297.7,573.8 298.3,574.0 299.0,574.2 299.7,574.4 300.3,574.6 301.0,574.7 301.7,574.9 302.3,575.0 303.0,575.1 303.7,575.3 304.3,575.4 305.0,575.5 305.6,575.6 306.3,575.7 307.0,575.7 307.6,575.8 308.3,575.9 309.0,576.0 309.6,576.0 310.3,576.1 311.0,576.2 311.6,576.2 312.3,576.3" />
</g>
<line x1="68.50" y1="301.70" x2="68.50" y2="577.50" stroke="#1a1a1a" stroke-width="1.2"/>
<line x1="347.50" y1="299.30" x2="347.50" y2="578.50" stroke="#1a1a1a" stroke-width="1.2"/>
<line x1="65.50" y1="302.30" x2="350.50" y2="302.30" stroke="#1a1a1a" stroke-width="1.2"/>
<line x1="63.00" y1="576.90" x2="68.50" y2="576.90" stroke="#1a1a1a" stroke-width="1.2"/>
<line x1="347.50" y1="576.90" x2="353.00" y2="576.90" stroke="#1a1a1a" stroke-width="1.2"/>
<line x1="62.90" y1="576.90" x2="68.50" y2="576.90" stroke="#1a1a1a" stroke-width="1.1"/>
<line x1="347.50" y1="576.90" x2="353.10" y2="576.90" stroke="#1a1a1a" stroke-width="1.1"/>
<text transform="translate(58.5,581.7) scale(1,1.1)" font-size="12.5" text-anchor="end" fill="#111">0</text>
<line x1="65.50" y1="560.77" x2="68.50" y2="560.77" stroke="#1a1a1a" stroke-width="1.1"/>
<line x1="347.50" y1="560.77" x2="350.50" y2="560.77" stroke="#1a1a1a" stroke-width="1.1"/>
<line x1="62.90" y1="544.64" x2="68.50" y2="544.64" stroke="#1a1a1a" stroke-width="1.1"/>
<line x1="347.50" y1="544.64" x2="353.10" y2="544.64" stroke="#1a1a1a" stroke-width="1.1"/>
<text transform="translate(58.5,549.4) scale(1,1.1)" font-size="12.5" text-anchor="end" fill="#111">200</text>
<line x1="65.50" y1="528.51" x2="68.50" y2="528.51" stroke="#1a1a1a" stroke-width="1.1"/>
<line x1="347.50" y1="528.51" x2="350.50" y2="528.51" stroke="#1a1a1a" stroke-width="1.1"/>
<line x1="62.90" y1="512.38" x2="68.50" y2="512.38" stroke="#1a1a1a" stroke-width="1.1"/>
<line x1="347.50" y1="512.38" x2="353.10" y2="512.38" stroke="#1a1a1a" stroke-width="1.1"/>
<text transform="translate(58.5,517.2) scale(1,1.1)" font-size="12.5" text-anchor="end" fill="#111">400</text>
<line x1="65.50" y1="496.25" x2="68.50" y2="496.25" stroke="#1a1a1a" stroke-width="1.1"/>
<line x1="347.50" y1="496.25" x2="350.50" y2="496.25" stroke="#1a1a1a" stroke-width="1.1"/>
<line x1="62.90" y1="480.12" x2="68.50" y2="480.12" stroke="#1a1a1a" stroke-width="1.1"/>
<line x1="347.50" y1="480.12" x2="353.10" y2="480.12" stroke="#1a1a1a" stroke-width="1.1"/>
<text transform="translate(58.5,484.9) scale(1,1.1)" font-size="12.5" text-anchor="end" fill="#111">600</text>
<line x1="65.50" y1="463.99" x2="68.50" y2="463.99" stroke="#1a1a1a" stroke-width="1.1"/>
<line x1="347.50" y1="463.99" x2="350.50" y2="463.99" stroke="#1a1a1a" stroke-width="1.1"/>
<line x1="62.90" y1="447.86" x2="68.50" y2="447.86" stroke="#1a1a1a" stroke-width="1.1"/>
<line x1="347.50" y1="447.86" x2="353.10" y2="447.86" stroke="#1a1a1a" stroke-width="1.1"/>
<text transform="translate(58.5,452.7) scale(1,1.1)" font-size="12.5" text-anchor="end" fill="#111">800</text>
<line x1="65.50" y1="431.73" x2="68.50" y2="431.73" stroke="#1a1a1a" stroke-width="1.1"/>
<line x1="347.50" y1="431.73" x2="350.50" y2="431.73" stroke="#1a1a1a" stroke-width="1.1"/>
<line x1="62.90" y1="415.60" x2="68.50" y2="415.60" stroke="#1a1a1a" stroke-width="1.1"/>
<line x1="347.50" y1="415.60" x2="353.10" y2="415.60" stroke="#1a1a1a" stroke-width="1.1"/>
<text transform="translate(58.5,420.4) scale(1,1.1)" font-size="12.5" text-anchor="end" fill="#111">1000</text>
<line x1="65.50" y1="399.47" x2="68.50" y2="399.47" stroke="#1a1a1a" stroke-width="1.1"/>
<line x1="347.50" y1="399.47" x2="350.50" y2="399.47" stroke="#1a1a1a" stroke-width="1.1"/>
<line x1="62.90" y1="383.34" x2="68.50" y2="383.34" stroke="#1a1a1a" stroke-width="1.1"/>
<line x1="347.50" y1="383.34" x2="353.10" y2="383.34" stroke="#1a1a1a" stroke-width="1.1"/>
<text transform="translate(58.5,388.1) scale(1,1.1)" font-size="12.5" text-anchor="end" fill="#111">1200</text>
<line x1="65.50" y1="367.21" x2="68.50" y2="367.21" stroke="#1a1a1a" stroke-width="1.1"/>
<line x1="347.50" y1="367.21" x2="350.50" y2="367.21" stroke="#1a1a1a" stroke-width="1.1"/>
<line x1="62.90" y1="351.08" x2="68.50" y2="351.08" stroke="#1a1a1a" stroke-width="1.1"/>
<line x1="347.50" y1="351.08" x2="353.10" y2="351.08" stroke="#1a1a1a" stroke-width="1.1"/>
<text transform="translate(58.5,355.9) scale(1,1.1)" font-size="12.5" text-anchor="end" fill="#111">1400</text>
<line x1="65.50" y1="334.95" x2="68.50" y2="334.95" stroke="#1a1a1a" stroke-width="1.1"/>
<line x1="347.50" y1="334.95" x2="350.50" y2="334.95" stroke="#1a1a1a" stroke-width="1.1"/>
<line x1="62.90" y1="318.82" x2="68.50" y2="318.82" stroke="#1a1a1a" stroke-width="1.1"/>
<line x1="347.50" y1="318.82" x2="353.10" y2="318.82" stroke="#1a1a1a" stroke-width="1.1"/>
<text transform="translate(58.5,323.6) scale(1,1.1)" font-size="12.5" text-anchor="end" fill="#111">1600</text>
<line x1="81.79" y1="576.90" x2="81.79" y2="579.90" stroke="#1a1a1a" stroke-width="1.1"/>
<line x1="81.79" y1="299.30" x2="81.79" y2="302.30" stroke="#1a1a1a" stroke-width="1.1"/>
<line x1="108.36" y1="576.90" x2="108.36" y2="582.50" stroke="#1a1a1a" stroke-width="1.1"/>
<line x1="108.36" y1="296.70" x2="108.36" y2="302.30" stroke="#1a1a1a" stroke-width="1.1"/>
<text transform="translate(108.1,596.9) scale(1,1.08)" font-size="12.7" text-anchor="middle" fill="#111">620</text>
<line x1="134.93" y1="576.90" x2="134.93" y2="579.90" stroke="#1a1a1a" stroke-width="1.1"/>
<line x1="134.93" y1="299.30" x2="134.93" y2="302.30" stroke="#1a1a1a" stroke-width="1.1"/>
<line x1="161.50" y1="576.90" x2="161.50" y2="582.50" stroke="#1a1a1a" stroke-width="1.1"/>
<line x1="161.50" y1="296.70" x2="161.50" y2="302.30" stroke="#1a1a1a" stroke-width="1.1"/>
<text transform="translate(161.2,596.9) scale(1,1.08)" font-size="12.7" text-anchor="middle" fill="#111">640</text>
<line x1="188.07" y1="576.90" x2="188.07" y2="579.90" stroke="#1a1a1a" stroke-width="1.1"/>
<line x1="188.07" y1="299.30" x2="188.07" y2="302.30" stroke="#1a1a1a" stroke-width="1.1"/>
<line x1="214.64" y1="576.90" x2="214.64" y2="582.50" stroke="#1a1a1a" stroke-width="1.1"/>
<line x1="214.64" y1="296.70" x2="214.64" y2="302.30" stroke="#1a1a1a" stroke-width="1.1"/>
<text transform="translate(214.3,596.9) scale(1,1.08)" font-size="12.7" text-anchor="middle" fill="#111">660</text>
<line x1="241.21" y1="576.90" x2="241.21" y2="579.90" stroke="#1a1a1a" stroke-width="1.1"/>
<line x1="241.21" y1="299.30" x2="241.21" y2="302.30" stroke="#1a1a1a" stroke-width="1.1"/>
<line x1="267.79" y1="576.90" x2="267.79" y2="582.50" stroke="#1a1a1a" stroke-width="1.1"/>
<line x1="267.79" y1="296.70" x2="267.79" y2="302.30" stroke="#1a1a1a" stroke-width="1.1"/>
<text transform="translate(267.5,596.9) scale(1,1.08)" font-size="12.7" text-anchor="middle" fill="#111">680</text>
<line x1="294.36" y1="576.90" x2="294.36" y2="579.90" stroke="#1a1a1a" stroke-width="1.1"/>
<line x1="294.36" y1="299.30" x2="294.36" y2="302.30" stroke="#1a1a1a" stroke-width="1.1"/>
<line x1="320.93" y1="576.90" x2="320.93" y2="582.50" stroke="#1a1a1a" stroke-width="1.1"/>
<line x1="320.93" y1="296.70" x2="320.93" y2="302.30" stroke="#1a1a1a" stroke-width="1.1"/>
<text transform="translate(320.6,596.9) scale(1,1.08)" font-size="12.7" text-anchor="middle" fill="#111">700</text>
<text transform="translate(11.9,432.9) rotate(-90)" font-size="15.8" text-anchor="middle" fill="#111">Intensity (counts)</text>
<text transform="translate(217.6,621.4) scale(1,1.02)" font-size="15.8" text-anchor="middle" fill="#111">Wavelength (nm)</text>
<text transform="translate(87.3,337.1)" font-size="15" text-anchor="start" fill="#222">(b)</text>
</g>
</svg>
</body></html>
